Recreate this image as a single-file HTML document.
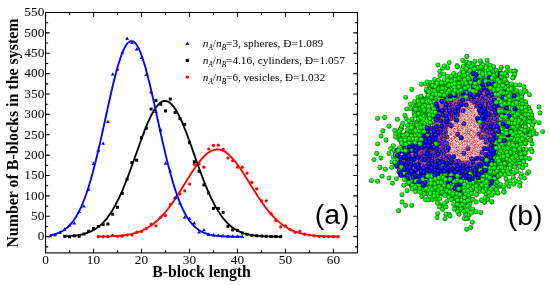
<!DOCTYPE html>
<html lang="en"><head><meta charset="utf-8"><title>Figure</title>
<style>html,body{margin:0;padding:0;background:#fff}svg{display:block}</style></head>
<body>
<svg width="550" height="285" viewBox="0 0 550 285">
<defs>
<radialGradient id="gg" cx="0.5" cy="0.5" r="0.5" fx="0.38" fy="0.34"><stop offset="0" stop-color="#5cff5c"/><stop offset="0.4" stop-color="#10f010"/><stop offset="0.75" stop-color="#00c000"/><stop offset="1" stop-color="#005000"/></radialGradient>
<radialGradient id="gd" cx="0.5" cy="0.5" r="0.5" fx="0.38" fy="0.34"><stop offset="0" stop-color="#30e030"/><stop offset="0.4" stop-color="#08c808"/><stop offset="0.75" stop-color="#00a800"/><stop offset="1" stop-color="#005000"/></radialGradient>
<radialGradient id="gb" cx="0.5" cy="0.5" r="0.5" fx="0.38" fy="0.34"><stop offset="0" stop-color="#4a4aff"/><stop offset="0.4" stop-color="#1010e4"/><stop offset="0.75" stop-color="#0000b8"/><stop offset="1" stop-color="#00004c"/></radialGradient>
<radialGradient id="bd" cx="0.5" cy="0.5" r="0.5" fx="0.38" fy="0.34"><stop offset="0" stop-color="#6048f0"/><stop offset="0.4" stop-color="#3018d0"/><stop offset="0.75" stop-color="#2008a8"/><stop offset="1" stop-color="#180050"/></radialGradient>
</defs>
<rect width="550" height="285" fill="#fff"/>
<filter id="fw" filterUnits="userSpaceOnUse" x="390" y="55" width="150" height="150" color-interpolation-filters="sRGB"><feTurbulence type="fractalNoise" baseFrequency="1.7" numOctaves="1" seed="3"/><feColorMatrix values="0 0 0 0 1  0 0 0 0 1  0 0 0 0 1  8 0 0 0 -4.2"/><feComposite operator="in" in2="SourceGraphic"/></filter>
<filter id="fr" filterUnits="userSpaceOnUse" x="390" y="55" width="150" height="150" color-interpolation-filters="sRGB"><feTurbulence type="fractalNoise" baseFrequency="1.7" numOctaves="1" seed="9"/><feColorMatrix values="0 0 0 0 0.75  0 0 0 0 0.25  0 0 0 0 0.25  8 0 0 0 -4.4"/><feComposite operator="in" in2="SourceGraphic"/></filter>
<filter id="fp" filterUnits="userSpaceOnUse" x="390" y="55" width="150" height="150" color-interpolation-filters="sRGB"><feTurbulence type="fractalNoise" baseFrequency="1.7" numOctaves="1" seed="14"/><feColorMatrix values="0 0 0 0 0.86  0 0 0 0 0.36  0 0 0 0 0.44  8 0 0 0 -3.65"/><feComposite operator="in" in2="SourceGraphic"/></filter>
<ellipse cx="518" cy="128" rx="8" ry="8" filter="url(#fp)" opacity="0.55"/>
<ellipse cx="514" cy="94" rx="6" ry="10" filter="url(#fp)" opacity="0.55"/>
<ellipse cx="437" cy="181" rx="6" ry="5" filter="url(#fp)" opacity="0.55"/>
<ellipse cx="519" cy="173" rx="4" ry="9" filter="url(#fp)" opacity="0.55"/>
<ellipse cx="506" cy="138" rx="5" ry="6" filter="url(#fp)" opacity="0.55"/>
<ellipse cx="430" cy="116" rx="6" ry="6" filter="url(#fp)" opacity="0.55"/>
<ellipse cx="524" cy="150" rx="4" ry="6" filter="url(#fp)" opacity="0.55"/>
<polygon points="472.5,85.2 480.5,84.3 487.6,81.6 493.8,81.6 497.4,86.0 498.3,93.2 500.9,99.4 503.6,106.5 505.4,114.5 505.4,123.4 503.6,133.2 499.2,143.0 492.9,150.1 488.5,158.1 484.0,166.2 477.8,172.4 468.9,175.1 463.6,175.9 457.3,180.4 451.1,174.2 442.2,170.2 431.5,172.4 425.3,181.3 417.3,175.1 405.7,170.6 402.1,159.9 403.0,148.3 411.1,144.8 414.6,143.9 424.4,135.9 431.5,126.1 436.0,117.2 438.6,103.8 447.5,99.4 460.0,93.2 466.2,90.5" fill="#9c5c98"/>
<polygon points="473.5,96.3 478.5,100.8 481.0,109.7 479.8,120.9 481.0,132.1 483.5,143.3 488.5,150.0 482.2,159.0 471.0,162.4 458.5,161.2 448.5,156.8 443.5,147.8 444.8,138.8 449.8,127.6 456.0,116.4 464.8,105.2" fill="#eaaca6" stroke="#eaaca6" stroke-width="3" stroke-linejoin="round"/>
<polygon points="473.5,96.3 478.5,100.8 481.0,109.7 479.8,120.9 481.0,132.1 483.5,143.3 488.5,150.0 482.2,159.0 471.0,162.4 458.5,161.2 448.5,156.8 443.5,147.8 444.8,138.8 449.8,127.6 456.0,116.4 464.8,105.2" filter="url(#fw)"/>
<polygon points="472.5,85.2 480.5,84.3 487.6,81.6 493.8,81.6 497.4,86.0 498.3,93.2 500.9,99.4 503.6,106.5 505.4,114.5 505.4,123.4 503.6,133.2 499.2,143.0 492.9,150.1 488.5,158.1 484.0,166.2 477.8,172.4 468.9,175.1 463.6,175.9 457.3,180.4 451.1,174.2 442.2,170.2 431.5,172.4 425.3,181.3 417.3,175.1 405.7,170.6 402.1,159.9 403.0,148.3 411.1,144.8 414.6,143.9 424.4,135.9 431.5,126.1 436.0,117.2 438.6,103.8 447.5,99.4 460.0,93.2 466.2,90.5" filter="url(#fr)"/>
<g><circle cx="440.3" cy="140.0" r="2.5" fill="url(#bd)"/><circle cx="445.1" cy="127.5" r="2.5" fill="url(#bd)"/><circle cx="440.0" cy="151.9" r="2.5" fill="url(#bd)"/><circle cx="488.8" cy="100.2" r="2.5" fill="url(#bd)"/><circle cx="470.7" cy="165.4" r="2.5" fill="url(#bd)"/><circle cx="468.7" cy="99.0" r="2.5" fill="url(#bd)"/><circle cx="451.2" cy="125.7" r="2.5" fill="url(#bd)"/><circle cx="487.7" cy="137.0" r="2.5" fill="url(#bd)"/><circle cx="437.2" cy="158.7" r="2.5" fill="url(#bd)"/><circle cx="494.7" cy="110.4" r="2.5" fill="url(#bd)"/><circle cx="414.3" cy="143.7" r="2.5" fill="url(#bd)"/><circle cx="433.2" cy="156.8" r="2.5" fill="url(#bd)"/><circle cx="423.2" cy="156.2" r="2.5" fill="url(#bd)"/><circle cx="493.6" cy="115.8" r="2.5" fill="url(#bd)"/><circle cx="467.4" cy="166.0" r="2.5" fill="url(#bd)"/><circle cx="496.5" cy="141.0" r="2.5" fill="url(#bd)"/><circle cx="471.9" cy="100.4" r="2.5" fill="url(#bd)"/><circle cx="449.7" cy="103.5" r="2.5" fill="url(#bd)"/><circle cx="494.6" cy="118.4" r="2.5" fill="url(#bd)"/><circle cx="459.8" cy="168.6" r="2.5" fill="url(#bd)"/><circle cx="491.9" cy="124.3" r="2.5" fill="url(#bd)"/><circle cx="482.5" cy="99.1" r="2.5" fill="url(#bd)"/><circle cx="488.3" cy="126.0" r="2.5" fill="url(#bd)"/><circle cx="483.4" cy="124.6" r="2.5" fill="url(#bd)"/><circle cx="434.9" cy="150.8" r="2.5" fill="url(#bd)"/><circle cx="490.0" cy="121.2" r="2.5" fill="url(#bd)"/><circle cx="430.2" cy="151.8" r="2.5" fill="url(#bd)"/><circle cx="481.4" cy="137.4" r="2.5" fill="url(#bd)"/><circle cx="445.3" cy="131.5" r="2.5" fill="url(#bd)"/><circle cx="439.8" cy="159.2" r="2.5" fill="url(#bd)"/><circle cx="428.2" cy="159.0" r="2.5" fill="url(#bd)"/><circle cx="486.9" cy="95.3" r="2.5" fill="url(#bd)"/><circle cx="446.5" cy="136.7" r="2.5" fill="url(#bd)"/><circle cx="444.8" cy="145.1" r="2.5" fill="url(#bd)"/><circle cx="479.3" cy="99.9" r="2.5" fill="url(#bd)"/><circle cx="449.3" cy="165.2" r="2.5" fill="url(#bd)"/><circle cx="420.1" cy="161.7" r="2.5" fill="url(#bd)"/><circle cx="455.0" cy="182.8" r="2.5" fill="url(#bd)"/><circle cx="443.9" cy="153.7" r="2.5" fill="url(#bd)"/><circle cx="494.4" cy="104.0" r="2.5" fill="url(#bd)"/><circle cx="460.2" cy="101.9" r="2.5" fill="url(#bd)"/><circle cx="477.1" cy="105.9" r="2.5" fill="url(#bd)"/><circle cx="492.4" cy="105.4" r="2.5" fill="url(#bd)"/><circle cx="446.6" cy="158.2" r="2.5" fill="url(#bd)"/><circle cx="455.6" cy="108.8" r="2.5" fill="url(#bd)"/><circle cx="426.0" cy="157.2" r="2.5" fill="url(#bd)"/><circle cx="498.3" cy="112.3" r="2.5" fill="url(#bd)"/><circle cx="443.0" cy="122.0" r="2.5" fill="url(#bd)"/><circle cx="486.1" cy="97.8" r="2.5" fill="url(#bd)"/><circle cx="446.9" cy="110.2" r="2.5" fill="url(#bd)"/><circle cx="490.5" cy="118.1" r="2.5" fill="url(#bd)"/><circle cx="491.6" cy="130.4" r="2.5" fill="url(#bd)"/><circle cx="478.4" cy="103.7" r="2.5" fill="url(#bd)"/><circle cx="456.7" cy="164.3" r="2.5" fill="url(#bd)"/><circle cx="488.5" cy="90.3" r="2.5" fill="url(#bd)"/><circle cx="463.9" cy="123.7" r="2.5" fill="url(#bd)"/><circle cx="491.2" cy="108.5" r="2.5" fill="url(#bd)"/><circle cx="452.2" cy="118.2" r="2.5" fill="url(#bd)"/><circle cx="484.4" cy="137.2" r="2.5" fill="url(#bd)"/><circle cx="473.7" cy="168.2" r="2.5" fill="url(#bd)"/><circle cx="453.8" cy="166.3" r="2.5" fill="url(#bd)"/><circle cx="481.7" cy="126.4" r="2.5" fill="url(#bd)"/><circle cx="450.7" cy="107.8" r="2.5" fill="url(#bd)"/><circle cx="439.7" cy="166.5" r="2.5" fill="url(#bd)"/><circle cx="413.3" cy="163.6" r="2.5" fill="url(#bd)"/><circle cx="441.1" cy="135.4" r="2.5" fill="url(#bd)"/><circle cx="478.8" cy="133.9" r="2.5" fill="url(#bd)"/><circle cx="463.1" cy="110.6" r="2.5" fill="url(#bd)"/><circle cx="485.2" cy="128.1" r="2.5" fill="url(#bd)"/><circle cx="458.8" cy="161.6" r="2.5" fill="url(#bd)"/><circle cx="456.3" cy="104.8" r="2.5" fill="url(#bd)"/><circle cx="427.4" cy="151.3" r="2.5" fill="url(#bd)"/><circle cx="421.8" cy="154.1" r="2.5" fill="url(#bd)"/><circle cx="428.1" cy="136.7" r="2.5" fill="url(#bd)"/><circle cx="433.2" cy="145.1" r="2.5" fill="url(#bd)"/><circle cx="462.6" cy="163.3" r="2.5" fill="url(#bd)"/><circle cx="482.0" cy="152.4" r="2.5" fill="url(#bd)"/><circle cx="458.0" cy="111.0" r="2.5" fill="url(#bd)"/><circle cx="457.5" cy="115.0" r="2.5" fill="url(#bd)"/><circle cx="492.2" cy="132.9" r="2.5" fill="url(#bd)"/><circle cx="498.6" cy="121.2" r="2.5" fill="url(#bd)"/><circle cx="426.3" cy="148.9" r="2.5" fill="url(#bd)"/><circle cx="454.4" cy="116.1" r="2.5" fill="url(#bd)"/><circle cx="491.6" cy="98.9" r="2.5" fill="url(#bd)"/><circle cx="481.9" cy="104.0" r="2.5" fill="url(#bd)"/><circle cx="492.6" cy="143.3" r="2.5" fill="url(#bd)"/><circle cx="422.0" cy="166.3" r="2.5" fill="url(#bd)"/><circle cx="435.5" cy="155.4" r="2.5" fill="url(#bd)"/><circle cx="488.0" cy="102.7" r="2.5" fill="url(#bd)"/><circle cx="491.3" cy="101.3" r="2.5" fill="url(#bd)"/><circle cx="435.3" cy="172.9" r="2.5" fill="url(#bd)"/><circle cx="450.4" cy="113.6" r="2.5" fill="url(#bd)"/><circle cx="421.8" cy="159.0" r="2.5" fill="url(#bd)"/><circle cx="482.9" cy="130.8" r="2.5" fill="url(#bd)"/><circle cx="485.6" cy="90.6" r="2.5" fill="url(#bd)"/><circle cx="467.5" cy="163.0" r="2.5" fill="url(#bd)"/><circle cx="444.0" cy="140.3" r="2.5" fill="url(#bd)"/><circle cx="453.3" cy="106.2" r="2.5" fill="url(#bd)"/><circle cx="497.9" cy="116.7" r="2.5" fill="url(#bd)"/><circle cx="489.1" cy="123.5" r="2.5" fill="url(#bd)"/><circle cx="443.0" cy="148.1" r="2.5" fill="url(#bd)"/><circle cx="431.2" cy="158.5" r="2.5" fill="url(#bd)"/><circle cx="485.6" cy="102.0" r="2.5" fill="url(#bd)"/><circle cx="459.7" cy="165.1" r="2.5" fill="url(#bd)"/><circle cx="489.7" cy="132.7" r="2.5" fill="url(#bd)"/><circle cx="443.2" cy="142.8" r="2.5" fill="url(#bd)"/><circle cx="420.8" cy="186.7" r="2.5" fill="url(#bd)"/><circle cx="457.5" cy="134.3" r="2.5" fill="url(#bd)"/><circle cx="479.5" cy="157.9" r="2.5" fill="url(#bd)"/><circle cx="480.6" cy="90.4" r="2.5" fill="url(#bd)"/><circle cx="444.9" cy="101.6" r="2.5" fill="url(#bd)"/><circle cx="485.5" cy="104.6" r="2.5" fill="url(#bd)"/><circle cx="443.4" cy="133.1" r="2.5" fill="url(#bd)"/><circle cx="424.2" cy="151.8" r="2.5" fill="url(#bd)"/><circle cx="433.2" cy="152.7" r="2.5" fill="url(#bd)"/><circle cx="401.2" cy="151.3" r="2.5" fill="url(#bd)"/><circle cx="448.3" cy="124.6" r="2.5" fill="url(#bd)"/><circle cx="450.7" cy="100.8" r="2.5" fill="url(#bd)"/><circle cx="471.3" cy="84.6" r="2.5" fill="url(#bd)"/><circle cx="443.5" cy="135.6" r="2.5" fill="url(#bd)"/><circle cx="438.7" cy="149.5" r="2.5" fill="url(#bd)"/><circle cx="440.2" cy="132.2" r="2.5" fill="url(#bd)"/><circle cx="486.6" cy="120.2" r="2.5" fill="url(#bd)"/><circle cx="439.2" cy="143.7" r="2.5" fill="url(#bd)"/><circle cx="487.1" cy="131.2" r="2.5" fill="url(#bd)"/><circle cx="486.5" cy="107.1" r="2.5" fill="url(#bd)"/><circle cx="445.3" cy="107.5" r="2.5" fill="url(#bd)"/><circle cx="448.7" cy="155.9" r="2.5" fill="url(#bd)"/><circle cx="463.9" cy="153.2" r="2.5" fill="url(#bd)"/><circle cx="474.1" cy="102.0" r="2.5" fill="url(#bd)"/><circle cx="440.9" cy="129.4" r="2.5" fill="url(#bd)"/><circle cx="446.7" cy="143.5" r="2.5" fill="url(#bd)"/><circle cx="480.9" cy="96.1" r="2.5" fill="url(#bd)"/><circle cx="444.1" cy="150.6" r="2.5" fill="url(#bd)"/><circle cx="495.5" cy="124.0" r="2.5" fill="url(#bd)"/><circle cx="443.6" cy="156.7" r="2.5" fill="url(#bd)"/><circle cx="449.4" cy="119.1" r="2.5" fill="url(#bd)"/><circle cx="486.8" cy="117.0" r="2.5" fill="url(#bd)"/><circle cx="471.5" cy="158.8" r="2.5" fill="url(#bd)"/><circle cx="467.9" cy="148.4" r="2.5" fill="url(#bd)"/><circle cx="496.3" cy="137.2" r="2.5" fill="url(#bd)"/><circle cx="452.5" cy="110.7" r="2.5" fill="url(#bd)"/><circle cx="488.7" cy="105.7" r="2.5" fill="url(#bd)"/><circle cx="447.3" cy="150.4" r="2.5" fill="url(#bd)"/><circle cx="486.0" cy="142.1" r="2.5" fill="url(#bd)"/><circle cx="428.1" cy="125.5" r="2.5" fill="url(#bd)"/><circle cx="493.5" cy="127.4" r="2.5" fill="url(#bd)"/><circle cx="489.3" cy="111.7" r="2.5" fill="url(#bd)"/><circle cx="456.3" cy="161.5" r="2.5" fill="url(#bd)"/><circle cx="436.3" cy="148.3" r="2.5" fill="url(#bd)"/><circle cx="476.4" cy="100.5" r="2.5" fill="url(#bd)"/></g>
<polygon points="472.5,85.2 480.5,84.3 487.6,81.6 493.8,81.6 497.4,86.0 498.3,93.2 500.9,99.4 503.6,106.5 505.4,114.5 505.4,123.4 503.6,133.2 499.2,143.0 492.9,150.1 488.5,158.1 484.0,166.2 477.8,172.4 468.9,175.1 463.6,175.9 457.3,180.4 451.1,174.2 442.2,170.2 431.5,172.4 425.3,181.3 417.3,175.1 405.7,170.6 402.1,159.9 403.0,148.3 411.1,144.8 414.6,143.9 424.4,135.9 431.5,126.1 436.0,117.2 438.6,103.8 447.5,99.4 460.0,93.2 466.2,90.5" filter="url(#fp)" opacity="0.5"/>
<g><circle cx="455.6" cy="207.7" r="2.45" fill="url(#gd)"/><circle cx="528.4" cy="111.8" r="2.45" fill="url(#gd)"/><circle cx="461.7" cy="182.9" r="2.45" fill="url(#gd)"/><circle cx="462.8" cy="209.7" r="2.45" fill="url(#gd)"/><circle cx="478.3" cy="80.7" r="2.45" fill="url(#gd)"/><circle cx="499.4" cy="145.1" r="2.45" fill="url(#gd)"/><circle cx="496.9" cy="75.0" r="2.45" fill="url(#gd)"/><circle cx="453.1" cy="180.9" r="2.45" fill="url(#gd)"/><circle cx="471.6" cy="183.1" r="2.45" fill="url(#gd)"/><circle cx="490.7" cy="170.5" r="2.45" fill="url(#gd)"/><circle cx="423.3" cy="184.7" r="2.45" fill="url(#gd)"/><circle cx="447.8" cy="181.5" r="2.45" fill="url(#gd)"/><circle cx="454.6" cy="90.0" r="2.45" fill="url(#gd)"/><circle cx="424.1" cy="193.3" r="2.45" fill="url(#gd)"/><circle cx="411.0" cy="185.4" r="2.45" fill="url(#gd)"/><circle cx="409.2" cy="138.7" r="2.45" fill="url(#gd)"/><circle cx="429.2" cy="86.8" r="2.45" fill="url(#gd)"/><circle cx="517.6" cy="153.8" r="2.45" fill="url(#gd)"/><circle cx="447.7" cy="194.1" r="2.45" fill="url(#gd)"/><circle cx="511.6" cy="121.9" r="2.45" fill="url(#gd)"/><circle cx="512.6" cy="96.6" r="2.45" fill="url(#gd)"/><circle cx="423.5" cy="130.3" r="2.45" fill="url(#gd)"/><circle cx="414.5" cy="185.4" r="2.45" fill="url(#gd)"/><circle cx="497.9" cy="72.3" r="2.45" fill="url(#gd)"/><circle cx="438.1" cy="84.3" r="2.45" fill="url(#gd)"/><circle cx="466.6" cy="182.1" r="2.45" fill="url(#gd)"/><circle cx="406.0" cy="142.0" r="2.45" fill="url(#gd)"/><circle cx="507.4" cy="153.7" r="2.45" fill="url(#gd)"/><circle cx="416.0" cy="138.1" r="2.45" fill="url(#gd)"/><circle cx="493.9" cy="184.3" r="2.45" fill="url(#gd)"/><circle cx="515.7" cy="118.7" r="2.45" fill="url(#gd)"/><circle cx="430.2" cy="122.5" r="2.45" fill="url(#gd)"/><circle cx="481.3" cy="189.4" r="2.45" fill="url(#gd)"/><circle cx="467.5" cy="66.0" r="2.45" fill="url(#gd)"/><circle cx="482.9" cy="82.1" r="2.45" fill="url(#gd)"/><circle cx="412.4" cy="183.2" r="2.45" fill="url(#gd)"/><circle cx="449.4" cy="99.3" r="2.45" fill="url(#gd)"/><circle cx="415.4" cy="106.0" r="2.45" fill="url(#gd)"/><circle cx="424.6" cy="128.7" r="2.45" fill="url(#gd)"/><circle cx="504.1" cy="76.4" r="2.45" fill="url(#gd)"/><circle cx="444.1" cy="86.8" r="2.45" fill="url(#gd)"/><circle cx="521.0" cy="133.4" r="2.45" fill="url(#gd)"/><circle cx="464.3" cy="86.3" r="2.45" fill="url(#gd)"/><circle cx="508.7" cy="138.8" r="2.45" fill="url(#gd)"/><circle cx="437.2" cy="97.0" r="2.45" fill="url(#gd)"/><circle cx="494.5" cy="171.1" r="2.45" fill="url(#gd)"/><circle cx="504.7" cy="87.6" r="2.45" fill="url(#gd)"/><circle cx="427.9" cy="187.0" r="2.45" fill="url(#gd)"/><circle cx="436.9" cy="178.9" r="2.45" fill="url(#gd)"/><circle cx="452.0" cy="90.3" r="2.45" fill="url(#gd)"/><circle cx="522.3" cy="158.0" r="2.45" fill="url(#gd)"/><circle cx="497.3" cy="174.4" r="2.45" fill="url(#gd)"/><circle cx="506.4" cy="97.4" r="2.45" fill="url(#gd)"/><circle cx="506.3" cy="112.1" r="2.45" fill="url(#gd)"/><circle cx="421.8" cy="183.2" r="2.45" fill="url(#gd)"/><circle cx="470.5" cy="200.9" r="2.45" fill="url(#gd)"/><circle cx="419.2" cy="135.1" r="2.45" fill="url(#gd)"/><circle cx="476.5" cy="78.5" r="2.45" fill="url(#gd)"/><circle cx="441.8" cy="177.1" r="2.45" fill="url(#gd)"/><circle cx="458.6" cy="79.1" r="2.45" fill="url(#gd)"/><circle cx="428.0" cy="96.0" r="2.45" fill="url(#gd)"/><circle cx="483.6" cy="172.5" r="2.45" fill="url(#gd)"/><circle cx="468.0" cy="68.2" r="2.45" fill="url(#gd)"/><circle cx="422.4" cy="124.8" r="2.45" fill="url(#gd)"/><circle cx="435.6" cy="177.1" r="2.45" fill="url(#gd)"/><circle cx="517.1" cy="145.4" r="2.45" fill="url(#gd)"/><circle cx="514.8" cy="157.1" r="2.45" fill="url(#gd)"/><circle cx="492.0" cy="177.9" r="2.45" fill="url(#gd)"/><circle cx="528.7" cy="107.4" r="2.45" fill="url(#gd)"/><circle cx="491.2" cy="75.4" r="2.45" fill="url(#gd)"/><circle cx="511.6" cy="101.1" r="2.45" fill="url(#gd)"/><circle cx="435.5" cy="83.5" r="2.45" fill="url(#gd)"/><circle cx="490.3" cy="164.6" r="2.45" fill="url(#gd)"/><circle cx="444.2" cy="174.7" r="2.45" fill="url(#gd)"/><circle cx="501.4" cy="148.1" r="2.45" fill="url(#gd)"/><circle cx="488.9" cy="189.0" r="2.45" fill="url(#gd)"/><circle cx="510.7" cy="172.3" r="2.45" fill="url(#gd)"/><circle cx="485.3" cy="176.2" r="2.45" fill="url(#gd)"/><circle cx="442.7" cy="190.5" r="2.45" fill="url(#gd)"/><circle cx="450.4" cy="178.8" r="2.45" fill="url(#gd)"/><circle cx="499.9" cy="136.5" r="2.45" fill="url(#gd)"/><circle cx="454.7" cy="194.2" r="2.45" fill="url(#gd)"/><circle cx="506.8" cy="172.5" r="2.45" fill="url(#gd)"/><circle cx="467.8" cy="189.5" r="2.45" fill="url(#gd)"/><circle cx="497.3" cy="155.5" r="2.45" fill="url(#gd)"/><circle cx="474.9" cy="68.9" r="2.45" fill="url(#gd)"/><circle cx="464.4" cy="181.9" r="2.45" fill="url(#gd)"/><circle cx="409.8" cy="143.7" r="2.45" fill="url(#gd)"/><circle cx="441.0" cy="188.5" r="2.45" fill="url(#gd)"/><circle cx="513.8" cy="99.5" r="2.45" fill="url(#gd)"/><circle cx="442.0" cy="184.8" r="2.45" fill="url(#gd)"/><circle cx="460.4" cy="88.1" r="2.45" fill="url(#gd)"/><circle cx="434.1" cy="183.1" r="2.45" fill="url(#gd)"/><circle cx="451.4" cy="95.2" r="2.45" fill="url(#gd)"/><circle cx="463.9" cy="198.5" r="2.45" fill="url(#gd)"/><circle cx="438.6" cy="177.5" r="2.45" fill="url(#gd)"/><circle cx="460.5" cy="184.3" r="2.45" fill="url(#gd)"/><circle cx="473.7" cy="72.0" r="2.45" fill="url(#gd)"/><circle cx="496.7" cy="177.9" r="2.45" fill="url(#gd)"/><circle cx="459.4" cy="82.4" r="2.45" fill="url(#gd)"/><circle cx="431.6" cy="177.7" r="2.45" fill="url(#gd)"/><circle cx="491.1" cy="180.9" r="2.45" fill="url(#gd)"/><circle cx="418.5" cy="119.6" r="2.45" fill="url(#gd)"/><circle cx="412.5" cy="130.6" r="2.45" fill="url(#gd)"/><circle cx="447.0" cy="82.1" r="2.45" fill="url(#gd)"/><circle cx="489.4" cy="80.2" r="2.45" fill="url(#gd)"/><circle cx="479.5" cy="179.0" r="2.45" fill="url(#gd)"/><circle cx="443.8" cy="182.3" r="2.45" fill="url(#gd)"/><circle cx="501.2" cy="81.3" r="2.45" fill="url(#gd)"/><circle cx="499.7" cy="170.3" r="2.45" fill="url(#gd)"/><circle cx="409.6" cy="181.2" r="2.45" fill="url(#gd)"/><circle cx="466.6" cy="89.6" r="2.45" fill="url(#gd)"/><circle cx="497.1" cy="152.7" r="2.45" fill="url(#gd)"/><circle cx="407.7" cy="131.1" r="2.45" fill="url(#gd)"/><circle cx="487.8" cy="185.8" r="2.45" fill="url(#gd)"/><circle cx="507.7" cy="144.3" r="2.45" fill="url(#gd)"/><circle cx="492.0" cy="190.7" r="2.45" fill="url(#gd)"/><circle cx="428.3" cy="89.7" r="2.45" fill="url(#gd)"/><circle cx="462.7" cy="70.0" r="2.45" fill="url(#gd)"/><circle cx="430.3" cy="183.6" r="2.45" fill="url(#gd)"/><circle cx="466.5" cy="196.5" r="2.45" fill="url(#gd)"/><circle cx="429.7" cy="93.2" r="2.45" fill="url(#gd)"/><circle cx="414.1" cy="136.8" r="2.45" fill="url(#gd)"/><circle cx="473.6" cy="182.5" r="2.45" fill="url(#gd)"/><circle cx="420.9" cy="186.9" r="2.45" fill="url(#gd)"/><circle cx="447.5" cy="99.6" r="2.45" fill="url(#gd)"/><circle cx="447.7" cy="95.8" r="2.45" fill="url(#gd)"/><circle cx="399.7" cy="140.2" r="2.45" fill="url(#gd)"/><circle cx="452.4" cy="187.2" r="2.45" fill="url(#gd)"/><circle cx="449.0" cy="91.1" r="2.45" fill="url(#gd)"/><circle cx="428.5" cy="117.0" r="2.45" fill="url(#gd)"/><circle cx="525.8" cy="105.2" r="2.45" fill="url(#gd)"/><circle cx="454.5" cy="186.5" r="2.45" fill="url(#gd)"/><circle cx="423.0" cy="188.5" r="2.45" fill="url(#gd)"/><circle cx="499.2" cy="78.3" r="2.45" fill="url(#gd)"/><circle cx="441.1" cy="97.4" r="2.45" fill="url(#gd)"/><circle cx="424.8" cy="117.4" r="2.45" fill="url(#gd)"/><circle cx="510.0" cy="118.3" r="2.45" fill="url(#gd)"/><circle cx="420.3" cy="122.0" r="2.45" fill="url(#gd)"/><circle cx="508.1" cy="110.8" r="2.45" fill="url(#gd)"/><circle cx="437.7" cy="184.6" r="2.45" fill="url(#gd)"/><circle cx="463.8" cy="201.8" r="2.45" fill="url(#gd)"/><circle cx="468.2" cy="82.3" r="2.45" fill="url(#gd)"/><circle cx="485.4" cy="76.4" r="2.45" fill="url(#gd)"/><circle cx="428.0" cy="107.0" r="2.45" fill="url(#gd)"/><circle cx="457.0" cy="192.9" r="2.45" fill="url(#gd)"/><circle cx="475.1" cy="185.7" r="2.45" fill="url(#gd)"/><circle cx="507.2" cy="137.5" r="2.45" fill="url(#gd)"/><circle cx="445.9" cy="93.6" r="2.45" fill="url(#gd)"/><circle cx="516.3" cy="143.2" r="2.45" fill="url(#gd)"/><circle cx="454.6" cy="182.6" r="2.45" fill="url(#gd)"/><circle cx="414.0" cy="141.8" r="2.45" fill="url(#gd)"/><circle cx="523.1" cy="122.3" r="2.45" fill="url(#gd)"/><circle cx="488.6" cy="172.7" r="2.45" fill="url(#gd)"/><circle cx="449.7" cy="80.4" r="2.45" fill="url(#gd)"/><circle cx="493.4" cy="192.9" r="2.45" fill="url(#gd)"/><circle cx="428.4" cy="178.4" r="2.45" fill="url(#gd)"/><circle cx="516.7" cy="134.4" r="2.45" fill="url(#gd)"/><circle cx="506.8" cy="129.6" r="2.45" fill="url(#gd)"/><circle cx="416.7" cy="140.1" r="2.45" fill="url(#gd)"/><circle cx="529.5" cy="109.7" r="2.45" fill="url(#gd)"/><circle cx="507.3" cy="100.3" r="2.45" fill="url(#gd)"/><circle cx="472.5" cy="76.7" r="2.45" fill="url(#gd)"/><circle cx="479.5" cy="186.3" r="2.45" fill="url(#gd)"/><circle cx="493.0" cy="161.9" r="2.45" fill="url(#gd)"/><circle cx="434.3" cy="88.2" r="2.45" fill="url(#gd)"/><circle cx="468.3" cy="192.1" r="2.45" fill="url(#gd)"/><circle cx="514.5" cy="116.3" r="2.45" fill="url(#gd)"/><circle cx="441.3" cy="83.3" r="2.45" fill="url(#gd)"/><circle cx="508.2" cy="133.4" r="2.45" fill="url(#gd)"/><circle cx="433.4" cy="110.3" r="2.45" fill="url(#gd)"/><circle cx="471.3" cy="81.9" r="2.45" fill="url(#gd)"/><circle cx="503.1" cy="135.3" r="2.45" fill="url(#gd)"/><circle cx="516.5" cy="136.3" r="2.45" fill="url(#gd)"/><circle cx="467.3" cy="78.3" r="2.45" fill="url(#gd)"/><circle cx="515.5" cy="121.4" r="2.45" fill="url(#gd)"/><circle cx="439.0" cy="97.4" r="2.45" fill="url(#gd)"/><circle cx="427.3" cy="122.1" r="2.45" fill="url(#gd)"/><circle cx="433.4" cy="107.4" r="2.45" fill="url(#gd)"/><circle cx="512.5" cy="158.4" r="2.45" fill="url(#gd)"/><circle cx="454.3" cy="190.8" r="2.45" fill="url(#gd)"/><circle cx="485.6" cy="173.4" r="2.45" fill="url(#gd)"/><circle cx="467.0" cy="184.8" r="2.45" fill="url(#gd)"/><circle cx="526.8" cy="119.5" r="2.45" fill="url(#gd)"/><circle cx="513.7" cy="114.2" r="2.45" fill="url(#gd)"/><circle cx="511.8" cy="166.6" r="2.45" fill="url(#gd)"/><circle cx="521.5" cy="112.9" r="2.45" fill="url(#gd)"/><circle cx="525.6" cy="126.0" r="2.45" fill="url(#gd)"/><circle cx="426.3" cy="191.9" r="2.45" fill="url(#gd)"/><circle cx="513.8" cy="144.6" r="2.45" fill="url(#gd)"/><circle cx="469.5" cy="194.2" r="2.45" fill="url(#gd)"/><circle cx="465.7" cy="180.1" r="2.45" fill="url(#gd)"/><circle cx="524.6" cy="134.8" r="2.45" fill="url(#gd)"/><circle cx="451.7" cy="184.2" r="2.45" fill="url(#gd)"/><circle cx="468.2" cy="70.6" r="2.45" fill="url(#gd)"/><circle cx="459.5" cy="200.2" r="2.45" fill="url(#gd)"/><circle cx="517.2" cy="92.3" r="2.45" fill="url(#gd)"/><circle cx="493.6" cy="173.1" r="2.45" fill="url(#gd)"/><circle cx="498.3" cy="160.6" r="2.45" fill="url(#gd)"/><circle cx="423.8" cy="108.7" r="2.45" fill="url(#gd)"/><circle cx="427.9" cy="184.7" r="2.45" fill="url(#gd)"/><circle cx="509.5" cy="165.1" r="2.45" fill="url(#gd)"/><circle cx="472.7" cy="66.9" r="2.45" fill="url(#gd)"/><circle cx="514.7" cy="112.3" r="2.45" fill="url(#gd)"/><circle cx="502.2" cy="84.2" r="2.45" fill="url(#gd)"/><circle cx="503.6" cy="109.4" r="2.45" fill="url(#gd)"/><circle cx="497.4" cy="83.5" r="2.45" fill="url(#gd)"/><circle cx="433.2" cy="96.6" r="2.45" fill="url(#gd)"/><circle cx="525.2" cy="122.1" r="2.45" fill="url(#gd)"/><circle cx="467.1" cy="198.6" r="2.45" fill="url(#gd)"/><circle cx="514.6" cy="161.1" r="2.45" fill="url(#gd)"/><circle cx="513.5" cy="108.2" r="2.45" fill="url(#gd)"/><circle cx="480.5" cy="182.8" r="2.45" fill="url(#gd)"/><circle cx="502.3" cy="150.8" r="2.45" fill="url(#gd)"/><circle cx="435.2" cy="102.3" r="2.45" fill="url(#gd)"/><circle cx="431.5" cy="109.6" r="2.45" fill="url(#gd)"/><circle cx="417.2" cy="105.9" r="2.45" fill="url(#gd)"/><circle cx="438.9" cy="86.7" r="2.45" fill="url(#gd)"/><circle cx="429.7" cy="120.7" r="2.45" fill="url(#gd)"/><circle cx="522.8" cy="139.6" r="2.45" fill="url(#gd)"/><circle cx="459.3" cy="192.7" r="2.45" fill="url(#gd)"/><circle cx="411.0" cy="134.8" r="2.45" fill="url(#gd)"/><circle cx="491.9" cy="79.7" r="2.45" fill="url(#gd)"/><circle cx="452.9" cy="81.6" r="2.45" fill="url(#gd)"/><circle cx="429.5" cy="190.4" r="2.45" fill="url(#gd)"/><circle cx="436.1" cy="109.6" r="2.45" fill="url(#gd)"/><circle cx="485.4" cy="84.5" r="2.45" fill="url(#gd)"/><circle cx="490.8" cy="73.0" r="2.45" fill="url(#gd)"/><circle cx="522.4" cy="154.2" r="2.45" fill="url(#gd)"/><circle cx="501.9" cy="90.8" r="2.45" fill="url(#gd)"/><circle cx="407.4" cy="135.6" r="2.45" fill="url(#gd)"/><circle cx="425.3" cy="110.6" r="2.45" fill="url(#gd)"/><circle cx="522.0" cy="100.9" r="2.45" fill="url(#gd)"/><circle cx="398.9" cy="172.0" r="2.45" fill="url(#gd)"/><circle cx="417.9" cy="111.1" r="2.45" fill="url(#gd)"/><circle cx="495.9" cy="149.2" r="2.45" fill="url(#gd)"/><circle cx="460.5" cy="194.4" r="2.45" fill="url(#gd)"/><circle cx="494.0" cy="177.6" r="2.45" fill="url(#gd)"/><circle cx="504.1" cy="106.4" r="2.45" fill="url(#gd)"/><circle cx="502.6" cy="166.1" r="2.45" fill="url(#gd)"/><circle cx="451.7" cy="198.0" r="2.45" fill="url(#gd)"/><circle cx="421.5" cy="107.3" r="2.45" fill="url(#gd)"/><circle cx="489.9" cy="162.0" r="2.45" fill="url(#gd)"/><circle cx="414.6" cy="134.1" r="2.45" fill="url(#gd)"/><circle cx="524.8" cy="129.3" r="2.45" fill="url(#gd)"/><circle cx="399.4" cy="136.5" r="2.45" fill="url(#gd)"/><circle cx="467.7" cy="80.3" r="2.45" fill="url(#gd)"/><circle cx="470.6" cy="76.9" r="2.45" fill="url(#gd)"/><circle cx="463.7" cy="81.1" r="2.45" fill="url(#gd)"/><circle cx="487.7" cy="169.0" r="2.45" fill="url(#gd)"/><circle cx="447.2" cy="192.1" r="2.45" fill="url(#gd)"/><circle cx="431.6" cy="113.9" r="2.45" fill="url(#gd)"/><circle cx="439.4" cy="175.0" r="2.45" fill="url(#gd)"/><circle cx="527.8" cy="132.3" r="2.45" fill="url(#gd)"/><circle cx="451.4" cy="92.3" r="2.45" fill="url(#gd)"/><circle cx="424.3" cy="186.8" r="2.45" fill="url(#gd)"/><circle cx="428.5" cy="125.7" r="2.45" fill="url(#gd)"/><circle cx="498.7" cy="176.4" r="2.45" fill="url(#gd)"/><circle cx="470.4" cy="85.6" r="2.45" fill="url(#gd)"/><circle cx="485.7" cy="73.3" r="2.45" fill="url(#gd)"/><circle cx="444.3" cy="94.6" r="2.45" fill="url(#gd)"/><circle cx="499.1" cy="165.5" r="2.45" fill="url(#gd)"/><circle cx="443.9" cy="81.4" r="2.45" fill="url(#gd)"/><circle cx="419.7" cy="104.4" r="2.45" fill="url(#gd)"/><circle cx="477.7" cy="83.7" r="2.45" fill="url(#gd)"/><circle cx="479.7" cy="77.6" r="2.45" fill="url(#gd)"/><circle cx="463.3" cy="78.0" r="2.45" fill="url(#gd)"/><circle cx="455.7" cy="84.0" r="2.45" fill="url(#gd)"/><circle cx="505.0" cy="99.4" r="2.45" fill="url(#gd)"/><circle cx="499.9" cy="141.2" r="2.45" fill="url(#gd)"/><circle cx="457.7" cy="83.1" r="2.45" fill="url(#gd)"/><circle cx="477.6" cy="181.0" r="2.45" fill="url(#gd)"/><circle cx="430.6" cy="174.6" r="2.45" fill="url(#gd)"/><circle cx="435.9" cy="188.2" r="2.45" fill="url(#gd)"/><circle cx="417.0" cy="122.3" r="2.45" fill="url(#gd)"/><circle cx="450.7" cy="188.0" r="2.45" fill="url(#gd)"/><circle cx="520.2" cy="159.8" r="2.45" fill="url(#gd)"/><circle cx="488.3" cy="69.6" r="2.45" fill="url(#gd)"/><circle cx="430.7" cy="116.3" r="2.45" fill="url(#gd)"/><circle cx="523.2" cy="116.4" r="2.45" fill="url(#gd)"/><circle cx="410.2" cy="183.4" r="2.45" fill="url(#gd)"/><circle cx="470.2" cy="90.6" r="2.45" fill="url(#gd)"/><circle cx="459.0" cy="84.8" r="2.45" fill="url(#gd)"/><circle cx="461.1" cy="91.3" r="2.45" fill="url(#gd)"/><circle cx="519.3" cy="132.9" r="2.45" fill="url(#gd)"/><circle cx="421.2" cy="96.8" r="2.45" fill="url(#gd)"/><circle cx="468.2" cy="73.0" r="2.45" fill="url(#gd)"/><circle cx="414.1" cy="123.0" r="2.45" fill="url(#gd)"/><circle cx="497.7" cy="184.4" r="2.45" fill="url(#gd)"/><circle cx="511.6" cy="105.9" r="2.45" fill="url(#gd)"/><circle cx="432.7" cy="90.6" r="2.45" fill="url(#gd)"/><circle cx="523.3" cy="149.3" r="2.45" fill="url(#gd)"/><circle cx="482.0" cy="83.7" r="2.45" fill="url(#gd)"/><circle cx="488.7" cy="176.4" r="2.45" fill="url(#gd)"/><circle cx="516.8" cy="130.4" r="2.45" fill="url(#gd)"/><circle cx="502.8" cy="144.7" r="2.45" fill="url(#gd)"/><circle cx="505.5" cy="83.3" r="2.45" fill="url(#gd)"/><circle cx="504.9" cy="141.8" r="2.45" fill="url(#gd)"/><circle cx="523.3" cy="136.6" r="2.45" fill="url(#gd)"/><circle cx="427.1" cy="119.3" r="2.45" fill="url(#gd)"/><circle cx="436.1" cy="174.3" r="2.45" fill="url(#gd)"/><circle cx="440.1" cy="172.7" r="2.45" fill="url(#gd)"/><circle cx="515.2" cy="148.0" r="2.45" fill="url(#gd)"/><circle cx="518.2" cy="141.4" r="2.45" fill="url(#gd)"/><circle cx="496.5" cy="142.4" r="2.45" fill="url(#gd)"/><circle cx="520.0" cy="140.5" r="2.45" fill="url(#gd)"/><circle cx="528.3" cy="129.2" r="2.45" fill="url(#gd)"/><circle cx="406.5" cy="146.9" r="2.45" fill="url(#gd)"/><circle cx="419.2" cy="100.1" r="2.45" fill="url(#gd)"/><circle cx="519.9" cy="118.1" r="2.45" fill="url(#gd)"/><circle cx="482.4" cy="175.8" r="2.45" fill="url(#gd)"/><circle cx="511.4" cy="114.8" r="2.45" fill="url(#gd)"/><circle cx="510.6" cy="87.7" r="2.45" fill="url(#gd)"/><circle cx="457.3" cy="93.8" r="2.45" fill="url(#gd)"/><circle cx="494.4" cy="191.3" r="2.45" fill="url(#gd)"/><circle cx="481.5" cy="69.1" r="2.45" fill="url(#gd)"/><circle cx="413.4" cy="187.7" r="2.45" fill="url(#gd)"/><circle cx="456.7" cy="87.2" r="2.45" fill="url(#gd)"/><circle cx="465.2" cy="78.0" r="2.45" fill="url(#gd)"/><circle cx="481.5" cy="79.8" r="2.45" fill="url(#gd)"/><circle cx="420.3" cy="114.3" r="2.45" fill="url(#gd)"/><circle cx="450.4" cy="88.1" r="2.45" fill="url(#gd)"/><circle cx="501.4" cy="155.5" r="2.45" fill="url(#gd)"/><circle cx="425.1" cy="183.7" r="2.45" fill="url(#gd)"/><circle cx="442.8" cy="98.4" r="2.45" fill="url(#gd)"/><circle cx="456.8" cy="185.3" r="2.45" fill="url(#gd)"/><circle cx="451.0" cy="193.1" r="2.45" fill="url(#gd)"/><circle cx="427.9" cy="102.3" r="2.45" fill="url(#gd)"/><circle cx="502.6" cy="101.6" r="2.45" fill="url(#gd)"/><circle cx="505.1" cy="161.1" r="2.45" fill="url(#gd)"/><circle cx="513.3" cy="88.3" r="2.45" fill="url(#gd)"/><circle cx="516.8" cy="95.1" r="2.45" fill="url(#gd)"/><circle cx="457.6" cy="187.6" r="2.45" fill="url(#gd)"/><circle cx="447.2" cy="176.5" r="2.45" fill="url(#gd)"/><circle cx="473.2" cy="187.7" r="2.45" fill="url(#gd)"/><circle cx="438.4" cy="181.5" r="2.45" fill="url(#gd)"/><circle cx="501.3" cy="162.7" r="2.45" fill="url(#gd)"/><circle cx="492.1" cy="160.3" r="2.45" fill="url(#gd)"/><circle cx="446.1" cy="85.1" r="2.45" fill="url(#gd)"/><circle cx="422.2" cy="127.0" r="2.45" fill="url(#gd)"/><circle cx="434.0" cy="191.0" r="2.45" fill="url(#gd)"/><circle cx="423.0" cy="98.9" r="2.45" fill="url(#gd)"/><circle cx="514.8" cy="131.8" r="2.45" fill="url(#gd)"/><circle cx="485.3" cy="185.9" r="2.45" fill="url(#gd)"/><circle cx="510.5" cy="132.3" r="2.45" fill="url(#gd)"/><circle cx="479.0" cy="183.9" r="2.45" fill="url(#gd)"/><circle cx="421.3" cy="129.8" r="2.45" fill="url(#gd)"/><circle cx="411.0" cy="140.1" r="2.45" fill="url(#gd)"/><circle cx="429.6" cy="192.8" r="2.45" fill="url(#gd)"/><circle cx="470.0" cy="189.9" r="2.45" fill="url(#gd)"/><circle cx="472.6" cy="84.7" r="2.45" fill="url(#gd)"/><circle cx="481.9" cy="177.8" r="2.45" fill="url(#gd)"/><circle cx="510.6" cy="99.1" r="2.45" fill="url(#gd)"/><circle cx="417.4" cy="134.2" r="2.45" fill="url(#gd)"/><circle cx="414.7" cy="110.4" r="2.45" fill="url(#gd)"/><circle cx="507.6" cy="91.1" r="2.45" fill="url(#gd)"/><circle cx="483.7" cy="70.9" r="2.45" fill="url(#gd)"/><circle cx="403.7" cy="143.5" r="2.45" fill="url(#gd)"/><circle cx="411.1" cy="125.6" r="2.45" fill="url(#gd)"/><circle cx="426.5" cy="125.3" r="2.45" fill="url(#gd)"/><circle cx="439.0" cy="89.3" r="2.45" fill="url(#gd)"/><circle cx="530.8" cy="135.2" r="2.45" fill="url(#gd)"/><circle cx="463.9" cy="196.6" r="2.45" fill="url(#gd)"/><circle cx="402.1" cy="149.2" r="2.45" fill="url(#gd)"/><circle cx="521.2" cy="142.4" r="2.45" fill="url(#gd)"/><circle cx="407.3" cy="178.7" r="2.45" fill="url(#gd)"/><circle cx="471.6" cy="180.2" r="2.45" fill="url(#gd)"/><circle cx="466.4" cy="193.2" r="2.45" fill="url(#gd)"/><circle cx="424.4" cy="114.2" r="2.45" fill="url(#gd)"/><circle cx="526.4" cy="114.0" r="2.45" fill="url(#gd)"/><circle cx="408.7" cy="133.4" r="2.45" fill="url(#gd)"/><circle cx="418.6" cy="185.7" r="2.45" fill="url(#gd)"/><circle cx="509.2" cy="121.8" r="2.45" fill="url(#gd)"/><circle cx="498.2" cy="80.2" r="2.45" fill="url(#gd)"/><circle cx="414.3" cy="125.4" r="2.45" fill="url(#gd)"/><circle cx="495.1" cy="165.4" r="2.45" fill="url(#gd)"/><circle cx="508.8" cy="84.3" r="2.45" fill="url(#gd)"/><circle cx="460.0" cy="93.3" r="2.45" fill="url(#gd)"/><circle cx="531.2" cy="116.0" r="2.45" fill="url(#gd)"/><circle cx="489.9" cy="78.1" r="2.45" fill="url(#gd)"/><circle cx="465.8" cy="83.8" r="2.45" fill="url(#gd)"/><circle cx="426.8" cy="114.2" r="2.45" fill="url(#gd)"/><circle cx="464.5" cy="88.6" r="2.45" fill="url(#gd)"/><circle cx="493.2" cy="164.8" r="2.45" fill="url(#gd)"/><circle cx="469.5" cy="75.3" r="2.45" fill="url(#gd)"/><circle cx="431.0" cy="118.6" r="2.45" fill="url(#gd)"/><circle cx="429.0" cy="103.8" r="2.45" fill="url(#gd)"/><circle cx="445.3" cy="188.0" r="2.45" fill="url(#gd)"/><circle cx="526.5" cy="135.3" r="2.45" fill="url(#gd)"/><circle cx="454.6" cy="198.5" r="2.45" fill="url(#gd)"/><circle cx="461.6" cy="72.4" r="2.45" fill="url(#gd)"/><circle cx="407.8" cy="183.4" r="2.45" fill="url(#gd)"/><circle cx="433.8" cy="116.8" r="2.45" fill="url(#gd)"/><circle cx="419.0" cy="183.0" r="2.45" fill="url(#gd)"/><circle cx="486.6" cy="80.2" r="2.45" fill="url(#gd)"/><circle cx="396.5" cy="151.4" r="2.45" fill="url(#gd)"/><circle cx="399.1" cy="148.7" r="2.45" fill="url(#gd)"/><circle cx="447.3" cy="188.8" r="2.45" fill="url(#gd)"/><circle cx="423.3" cy="119.9" r="2.45" fill="url(#gd)"/><circle cx="525.2" cy="143.8" r="2.45" fill="url(#gd)"/><circle cx="519.8" cy="154.6" r="2.45" fill="url(#gd)"/><circle cx="500.2" cy="159.6" r="2.45" fill="url(#gd)"/><circle cx="432.8" cy="187.3" r="2.45" fill="url(#gd)"/><circle cx="507.7" cy="86.8" r="2.45" fill="url(#gd)"/><circle cx="468.5" cy="86.8" r="2.45" fill="url(#gd)"/><circle cx="501.5" cy="142.3" r="2.45" fill="url(#gd)"/><circle cx="491.7" cy="184.6" r="2.45" fill="url(#gd)"/><circle cx="498.1" cy="151.1" r="2.45" fill="url(#gd)"/><circle cx="410.6" cy="131.3" r="2.45" fill="url(#gd)"/><circle cx="507.0" cy="140.6" r="2.45" fill="url(#gd)"/><circle cx="429.7" cy="100.2" r="2.45" fill="url(#gd)"/><circle cx="420.8" cy="120.2" r="2.45" fill="url(#gd)"/><circle cx="500.4" cy="174.6" r="2.45" fill="url(#gd)"/><circle cx="528.1" cy="121.1" r="2.45" fill="url(#gd)"/><circle cx="501.6" cy="94.7" r="2.45" fill="url(#gd)"/><circle cx="477.9" cy="76.6" r="2.45" fill="url(#gd)"/><circle cx="495.1" cy="75.7" r="2.45" fill="url(#gd)"/><circle cx="505.5" cy="118.4" r="2.45" fill="url(#gd)"/><circle cx="477.9" cy="74.3" r="2.45" fill="url(#gd)"/><circle cx="463.5" cy="205.5" r="2.45" fill="url(#gd)"/><circle cx="496.5" cy="87.8" r="2.45" fill="url(#gd)"/><circle cx="439.9" cy="90.9" r="2.45" fill="url(#gd)"/><circle cx="476.9" cy="179.3" r="2.45" fill="url(#gd)"/><circle cx="525.4" cy="111.7" r="2.45" fill="url(#gd)"/><circle cx="426.8" cy="91.8" r="2.45" fill="url(#gd)"/><circle cx="444.0" cy="92.6" r="2.45" fill="url(#gd)"/><circle cx="510.6" cy="128.8" r="2.45" fill="url(#gd)"/><circle cx="428.7" cy="109.5" r="2.45" fill="url(#gd)"/><circle cx="508.7" cy="128.3" r="2.45" fill="url(#gd)"/><circle cx="417.3" cy="136.0" r="2.45" fill="url(#gd)"/><circle cx="474.0" cy="80.6" r="2.45" fill="url(#gd)"/><circle cx="473.9" cy="78.1" r="2.45" fill="url(#gd)"/><circle cx="430.1" cy="186.6" r="2.45" fill="url(#gd)"/><circle cx="432.3" cy="120.8" r="2.45" fill="url(#gd)"/><circle cx="486.0" cy="181.6" r="2.45" fill="url(#gd)"/><circle cx="466.2" cy="72.8" r="2.45" fill="url(#gd)"/><circle cx="502.2" cy="173.2" r="2.45" fill="url(#gd)"/><circle cx="484.8" cy="178.0" r="2.45" fill="url(#gd)"/><circle cx="518.4" cy="123.5" r="2.45" fill="url(#gd)"/><circle cx="479.9" cy="81.7" r="2.45" fill="url(#gd)"/><circle cx="497.5" cy="171.9" r="2.45" fill="url(#gd)"/><circle cx="437.1" cy="90.0" r="2.45" fill="url(#gd)"/><circle cx="513.5" cy="129.9" r="2.45" fill="url(#gd)"/><circle cx="488.0" cy="183.0" r="2.45" fill="url(#gd)"/><circle cx="523.4" cy="131.5" r="2.45" fill="url(#gd)"/><circle cx="413.6" cy="108.7" r="2.45" fill="url(#gd)"/><circle cx="423.3" cy="111.0" r="2.45" fill="url(#gd)"/><circle cx="505.7" cy="165.5" r="2.45" fill="url(#gd)"/><circle cx="511.9" cy="155.3" r="2.45" fill="url(#gd)"/><circle cx="505.3" cy="122.4" r="2.45" fill="url(#gd)"/><circle cx="413.6" cy="132.1" r="2.45" fill="url(#gd)"/><circle cx="486.0" cy="70.9" r="2.45" fill="url(#gd)"/><circle cx="463.7" cy="189.3" r="2.45" fill="url(#gd)"/><circle cx="443.1" cy="96.2" r="2.45" fill="url(#gd)"/><circle cx="525.4" cy="108.7" r="2.45" fill="url(#gd)"/><circle cx="516.3" cy="109.1" r="2.45" fill="url(#gd)"/><circle cx="507.2" cy="93.8" r="2.45" fill="url(#gd)"/><circle cx="427.6" cy="176.6" r="2.45" fill="url(#gd)"/><circle cx="464.9" cy="68.1" r="2.45" fill="url(#gd)"/><circle cx="514.0" cy="139.7" r="2.45" fill="url(#gd)"/><circle cx="448.5" cy="97.5" r="2.45" fill="url(#gd)"/><circle cx="433.8" cy="180.8" r="2.45" fill="url(#gd)"/><circle cx="496.5" cy="160.2" r="2.45" fill="url(#gd)"/><circle cx="487.3" cy="178.5" r="2.45" fill="url(#gd)"/><circle cx="446.8" cy="185.3" r="2.45" fill="url(#gd)"/><circle cx="437.9" cy="80.9" r="2.45" fill="url(#gd)"/><circle cx="438.8" cy="191.1" r="2.45" fill="url(#gd)"/><circle cx="509.6" cy="125.9" r="2.45" fill="url(#gd)"/><circle cx="460.9" cy="80.6" r="2.45" fill="url(#gd)"/><circle cx="501.1" cy="99.2" r="2.45" fill="url(#gd)"/><circle cx="525.4" cy="116.4" r="2.45" fill="url(#gd)"/><circle cx="510.0" cy="90.7" r="2.45" fill="url(#gd)"/><circle cx="451.4" cy="84.6" r="2.45" fill="url(#gd)"/><circle cx="519.8" cy="96.8" r="2.45" fill="url(#gd)"/><circle cx="532.4" cy="130.7" r="2.45" fill="url(#gd)"/><circle cx="462.4" cy="186.6" r="2.45" fill="url(#gd)"/><circle cx="415.0" cy="129.8" r="2.45" fill="url(#gd)"/><circle cx="525.9" cy="131.9" r="2.45" fill="url(#gd)"/><circle cx="420.4" cy="109.0" r="2.45" fill="url(#gd)"/><circle cx="498.3" cy="88.4" r="2.45" fill="url(#gd)"/><circle cx="470.1" cy="71.9" r="2.45" fill="url(#gd)"/><circle cx="458.2" cy="90.3" r="2.45" fill="url(#gd)"/><circle cx="517.3" cy="100.7" r="2.45" fill="url(#gd)"/><circle cx="498.7" cy="91.1" r="2.45" fill="url(#gd)"/><circle cx="495.5" cy="192.9" r="2.45" fill="url(#gd)"/><circle cx="503.8" cy="163.9" r="2.45" fill="url(#gd)"/><circle cx="514.4" cy="136.5" r="2.45" fill="url(#gd)"/><circle cx="481.1" cy="75.1" r="2.45" fill="url(#gd)"/><circle cx="403.9" cy="176.1" r="2.45" fill="url(#gd)"/><circle cx="473.4" cy="185.1" r="2.45" fill="url(#gd)"/><circle cx="460.9" cy="85.7" r="2.45" fill="url(#gd)"/><circle cx="507.7" cy="151.6" r="2.45" fill="url(#gd)"/><circle cx="501.5" cy="88.0" r="2.45" fill="url(#gd)"/><circle cx="505.1" cy="92.4" r="2.45" fill="url(#gd)"/><circle cx="504.6" cy="130.0" r="2.45" fill="url(#gd)"/><circle cx="509.3" cy="156.0" r="2.45" fill="url(#gd)"/><circle cx="496.3" cy="170.0" r="2.45" fill="url(#gd)"/><circle cx="444.7" cy="185.0" r="2.45" fill="url(#gd)"/><circle cx="493.4" cy="175.3" r="2.45" fill="url(#gd)"/><circle cx="463.5" cy="90.7" r="2.45" fill="url(#gd)"/><circle cx="420.8" cy="101.6" r="2.45" fill="url(#gd)"/><circle cx="460.0" cy="209.0" r="2.45" fill="url(#gd)"/><circle cx="432.7" cy="93.9" r="2.45" fill="url(#gd)"/><circle cx="425.5" cy="105.0" r="2.45" fill="url(#gd)"/><circle cx="482.4" cy="182.3" r="2.45" fill="url(#gd)"/><circle cx="504.0" cy="95.4" r="2.45" fill="url(#gd)"/><circle cx="523.8" cy="141.2" r="2.45" fill="url(#gd)"/><circle cx="470.1" cy="63.3" r="2.45" fill="url(#gd)"/><circle cx="529.3" cy="113.6" r="2.45" fill="url(#gd)"/><circle cx="430.0" cy="110.9" r="2.45" fill="url(#gd)"/><circle cx="425.8" cy="99.3" r="2.45" fill="url(#gd)"/><circle cx="406.3" cy="139.6" r="2.45" fill="url(#gd)"/><circle cx="498.5" cy="158.6" r="2.45" fill="url(#gd)"/><circle cx="495.0" cy="159.0" r="2.45" fill="url(#gd)"/><circle cx="400.1" cy="129.7" r="2.45" fill="url(#gd)"/><circle cx="466.5" cy="201.4" r="2.45" fill="url(#gd)"/><circle cx="503.3" cy="168.5" r="2.45" fill="url(#gd)"/><circle cx="520.2" cy="105.3" r="2.45" fill="url(#gd)"/><circle cx="520.3" cy="128.3" r="2.45" fill="url(#gd)"/><circle cx="436.6" cy="95.0" r="2.45" fill="url(#gd)"/><circle cx="474.8" cy="180.5" r="2.45" fill="url(#gd)"/><circle cx="412.3" cy="143.6" r="2.45" fill="url(#gd)"/><circle cx="425.2" cy="179.9" r="2.45" fill="url(#gd)"/><circle cx="503.1" cy="158.9" r="2.45" fill="url(#gd)"/><circle cx="514.4" cy="92.7" r="2.45" fill="url(#gd)"/><circle cx="431.3" cy="91.9" r="2.45" fill="url(#gd)"/><circle cx="464.1" cy="73.6" r="2.45" fill="url(#gd)"/><circle cx="521.5" cy="136.8" r="2.45" fill="url(#gd)"/><circle cx="517.1" cy="117.3" r="2.45" fill="url(#gd)"/><circle cx="438.9" cy="179.7" r="2.45" fill="url(#gd)"/><circle cx="495.9" cy="184.9" r="2.45" fill="url(#gd)"/><circle cx="479.8" cy="70.3" r="2.45" fill="url(#gd)"/><circle cx="459.7" cy="189.2" r="2.45" fill="url(#gd)"/><circle cx="458.8" cy="75.3" r="2.45" fill="url(#gd)"/><circle cx="402.5" cy="137.9" r="2.45" fill="url(#gd)"/><circle cx="503.1" cy="80.1" r="2.45" fill="url(#gd)"/><circle cx="511.0" cy="113.0" r="2.45" fill="url(#gd)"/><circle cx="461.9" cy="203.1" r="2.45" fill="url(#gd)"/><circle cx="427.4" cy="98.0" r="2.45" fill="url(#gd)"/><circle cx="470.2" cy="88.7" r="2.45" fill="url(#gd)"/><circle cx="501.0" cy="77.1" r="2.45" fill="url(#gd)"/><circle cx="495.5" cy="77.5" r="2.45" fill="url(#gd)"/><circle cx="499.7" cy="186.4" r="2.45" fill="url(#gd)"/><circle cx="438.3" cy="188.4" r="2.45" fill="url(#gd)"/><circle cx="441.9" cy="194.0" r="2.45" fill="url(#gd)"/><circle cx="520.2" cy="152.8" r="2.45" fill="url(#gd)"/><circle cx="513.3" cy="120.3" r="2.45" fill="url(#gd)"/><circle cx="473.5" cy="86.9" r="2.45" fill="url(#gd)"/><circle cx="523.7" cy="104.6" r="2.45" fill="url(#gd)"/><circle cx="530.1" cy="122.0" r="2.45" fill="url(#gd)"/><circle cx="470.2" cy="188.0" r="2.45" fill="url(#gd)"/><circle cx="469.2" cy="198.5" r="2.45" fill="url(#gd)"/><circle cx="505.0" cy="103.3" r="2.45" fill="url(#gd)"/><circle cx="457.4" cy="190.5" r="2.45" fill="url(#gd)"/><circle cx="482.3" cy="72.8" r="2.45" fill="url(#gd)"/><circle cx="477.5" cy="185.1" r="2.45" fill="url(#gd)"/><circle cx="469.1" cy="180.3" r="2.45" fill="url(#gd)"/><circle cx="483.5" cy="79.3" r="2.45" fill="url(#gd)"/><circle cx="431.5" cy="95.8" r="2.45" fill="url(#gd)"/><circle cx="456.7" cy="209.2" r="2.45" fill="url(#gd)"/><circle cx="455.4" cy="77.5" r="2.45" fill="url(#gd)"/><circle cx="415.6" cy="182.3" r="2.45" fill="url(#gd)"/><circle cx="430.3" cy="89.2" r="2.45" fill="url(#gd)"/><circle cx="427.6" cy="194.3" r="2.45" fill="url(#gd)"/><circle cx="506.7" cy="132.3" r="2.45" fill="url(#gd)"/><circle cx="401.6" cy="128.3" r="2.45" fill="url(#gd)"/><circle cx="399.0" cy="131.9" r="2.45" fill="url(#gd)"/><circle cx="509.2" cy="142.9" r="2.45" fill="url(#gd)"/><circle cx="514.8" cy="104.6" r="2.45" fill="url(#gd)"/><circle cx="491.6" cy="166.0" r="2.45" fill="url(#gd)"/><circle cx="445.3" cy="179.2" r="2.45" fill="url(#gd)"/><circle cx="480.5" cy="176.7" r="2.45" fill="url(#gd)"/><circle cx="464.8" cy="185.3" r="2.45" fill="url(#gd)"/><circle cx="505.4" cy="156.6" r="2.45" fill="url(#gd)"/><circle cx="495.8" cy="188.7" r="2.45" fill="url(#gd)"/><circle cx="444.6" cy="190.4" r="2.45" fill="url(#gd)"/><circle cx="409.1" cy="135.1" r="2.45" fill="url(#gd)"/><circle cx="520.6" cy="151.0" r="2.45" fill="url(#gd)"/><circle cx="517.3" cy="163.6" r="2.45" fill="url(#gd)"/><circle cx="502.7" cy="86.1" r="2.45" fill="url(#gd)"/><circle cx="455.6" cy="188.1" r="2.45" fill="url(#gd)"/><circle cx="505.1" cy="128.2" r="2.45" fill="url(#gd)"/><circle cx="520.9" cy="156.7" r="2.45" fill="url(#gd)"/><circle cx="506.3" cy="162.7" r="2.45" fill="url(#gd)"/><circle cx="532.1" cy="133.9" r="2.45" fill="url(#gd)"/><circle cx="405.0" cy="137.1" r="2.45" fill="url(#gd)"/><circle cx="447.5" cy="86.7" r="2.45" fill="url(#gd)"/><circle cx="436.0" cy="99.3" r="2.45" fill="url(#gd)"/><circle cx="514.8" cy="133.8" r="2.45" fill="url(#gd)"/><circle cx="511.7" cy="134.8" r="2.45" fill="url(#gd)"/><circle cx="465.2" cy="65.7" r="2.45" fill="url(#gd)"/><circle cx="524.0" cy="114.3" r="2.45" fill="url(#gd)"/><circle cx="526.3" cy="141.0" r="2.45" fill="url(#gd)"/><circle cx="468.1" cy="91.2" r="2.45" fill="url(#gd)"/><circle cx="424.6" cy="126.2" r="2.45" fill="url(#gd)"/><circle cx="450.7" cy="181.7" r="2.45" fill="url(#gd)"/><circle cx="420.7" cy="98.7" r="2.45" fill="url(#gd)"/><circle cx="521.4" cy="95.9" r="2.45" fill="url(#gd)"/><circle cx="414.2" cy="113.0" r="2.45" fill="url(#gd)"/><circle cx="461.0" cy="197.6" r="2.45" fill="url(#gd)"/><circle cx="436.8" cy="104.1" r="2.45" fill="url(#gd)"/><circle cx="503.7" cy="147.2" r="2.45" fill="url(#gd)"/><circle cx="505.4" cy="109.5" r="2.45" fill="url(#gd)"/><circle cx="429.5" cy="176.0" r="2.45" fill="url(#gd)"/><circle cx="449.7" cy="183.3" r="2.45" fill="url(#gd)"/><circle cx="444.9" cy="83.3" r="2.45" fill="url(#gd)"/><circle cx="429.1" cy="182.1" r="2.45" fill="url(#gd)"/><circle cx="452.6" cy="189.2" r="2.45" fill="url(#gd)"/><circle cx="402.6" cy="134.9" r="2.45" fill="url(#gd)"/><circle cx="441.9" cy="179.8" r="2.45" fill="url(#gd)"/><circle cx="471.9" cy="190.3" r="2.45" fill="url(#gd)"/><circle cx="505.4" cy="150.5" r="2.45" fill="url(#gd)"/><circle cx="448.0" cy="179.2" r="2.45" fill="url(#gd)"/><circle cx="421.3" cy="134.0" r="2.45" fill="url(#gd)"/><circle cx="511.0" cy="149.0" r="2.45" fill="url(#gd)"/><circle cx="431.7" cy="103.2" r="2.45" fill="url(#gd)"/><circle cx="490.0" cy="71.0" r="2.45" fill="url(#gd)"/><circle cx="444.3" cy="192.9" r="2.45" fill="url(#gd)"/><circle cx="510.4" cy="159.3" r="2.45" fill="url(#gd)"/><circle cx="504.4" cy="133.6" r="2.45" fill="url(#gd)"/><circle cx="406.8" cy="133.6" r="2.45" fill="url(#gd)"/><circle cx="418.2" cy="115.1" r="2.45" fill="url(#gd)"/><circle cx="457.8" cy="202.4" r="2.45" fill="url(#gd)"/><circle cx="511.3" cy="110.9" r="2.45" fill="url(#gd)"/><circle cx="409.7" cy="146.5" r="2.45" fill="url(#gd)"/><circle cx="440.4" cy="94.0" r="2.45" fill="url(#gd)"/><circle cx="441.1" cy="182.0" r="2.45" fill="url(#gd)"/><circle cx="495.3" cy="144.7" r="2.45" fill="url(#gd)"/><circle cx="495.8" cy="79.8" r="2.45" fill="url(#gd)"/><circle cx="531.0" cy="132.3" r="2.45" fill="url(#gd)"/><circle cx="509.0" cy="131.1" r="2.45" fill="url(#gd)"/><circle cx="504.9" cy="124.5" r="2.45" fill="url(#gd)"/><circle cx="495.3" cy="157.2" r="2.45" fill="url(#gd)"/><circle cx="504.8" cy="154.3" r="2.45" fill="url(#gd)"/><circle cx="475.1" cy="75.9" r="2.45" fill="url(#gd)"/><circle cx="413.9" cy="138.7" r="2.45" fill="url(#gd)"/><circle cx="458.1" cy="197.6" r="2.45" fill="url(#gd)"/><circle cx="505.3" cy="136.5" r="2.45" fill="url(#gd)"/><circle cx="516.1" cy="151.3" r="2.45" fill="url(#gd)"/><circle cx="520.3" cy="124.0" r="2.45" fill="url(#gd)"/><circle cx="430.3" cy="180.1" r="2.45" fill="url(#gd)"/><circle cx="492.0" cy="187.9" r="2.45" fill="url(#gd)"/><circle cx="438.1" cy="92.6" r="2.45" fill="url(#gd)"/><circle cx="445.7" cy="89.8" r="2.45" fill="url(#gd)"/><circle cx="434.2" cy="111.9" r="2.45" fill="url(#gd)"/><circle cx="515.4" cy="138.2" r="2.45" fill="url(#gd)"/><circle cx="512.0" cy="139.9" r="2.45" fill="url(#gd)"/><circle cx="500.4" cy="149.9" r="2.45" fill="url(#gd)"/><circle cx="416.4" cy="124.3" r="2.45" fill="url(#gd)"/><circle cx="483.4" cy="189.4" r="2.45" fill="url(#gd)"/><circle cx="424.1" cy="121.6" r="2.45" fill="url(#gd)"/><circle cx="530.6" cy="139.6" r="2.45" fill="url(#gd)"/><circle cx="508.0" cy="161.0" r="2.45" fill="url(#gd)"/><circle cx="464.6" cy="191.9" r="2.45" fill="url(#gd)"/><circle cx="479.4" cy="188.1" r="2.45" fill="url(#gd)"/><circle cx="435.6" cy="182.0" r="2.45" fill="url(#gd)"/><circle cx="440.4" cy="204.9" r="2.45" fill="url(#gd)"/><circle cx="508.5" cy="102.5" r="2.45" fill="url(#gd)"/><circle cx="490.5" cy="175.9" r="2.45" fill="url(#gd)"/><circle cx="516.7" cy="105.6" r="2.45" fill="url(#gd)"/><circle cx="434.7" cy="94.1" r="2.45" fill="url(#gd)"/><circle cx="492.5" cy="182.8" r="2.45" fill="url(#gd)"/><circle cx="506.6" cy="148.4" r="2.45" fill="url(#gd)"/><circle cx="416.7" cy="184.9" r="2.45" fill="url(#gd)"/><circle cx="432.0" cy="86.0" r="2.45" fill="url(#gd)"/><circle cx="460.3" cy="186.1" r="2.45" fill="url(#gd)"/><circle cx="504.1" cy="82.1" r="2.45" fill="url(#gd)"/><circle cx="498.8" cy="74.0" r="2.45" fill="url(#gd)"/><circle cx="511.4" cy="124.6" r="2.45" fill="url(#gd)"/><circle cx="423.1" cy="191.3" r="2.45" fill="url(#gd)"/><circle cx="516.6" cy="114.6" r="2.45" fill="url(#gd)"/><circle cx="515.5" cy="140.9" r="2.45" fill="url(#gd)"/><circle cx="514.1" cy="122.6" r="2.45" fill="url(#gd)"/><circle cx="462.7" cy="85.0" r="2.45" fill="url(#gd)"/><circle cx="427.5" cy="112.5" r="2.45" fill="url(#gd)"/><circle cx="513.0" cy="110.1" r="2.45" fill="url(#gd)"/><circle cx="519.6" cy="122.2" r="2.45" fill="url(#gd)"/><circle cx="453.0" cy="97.0" r="2.45" fill="url(#gd)"/><circle cx="497.3" cy="147.8" r="2.45" fill="url(#gd)"/><circle cx="494.6" cy="167.6" r="2.45" fill="url(#gd)"/><circle cx="512.1" cy="137.0" r="2.45" fill="url(#gd)"/><circle cx="445.2" cy="96.3" r="2.45" fill="url(#gd)"/><circle cx="452.2" cy="196.0" r="2.45" fill="url(#gd)"/><circle cx="494.0" cy="154.7" r="2.45" fill="url(#gd)"/><circle cx="489.3" cy="167.3" r="2.45" fill="url(#gd)"/><circle cx="415.3" cy="188.9" r="2.45" fill="url(#gd)"/><circle cx="431.8" cy="98.2" r="2.45" fill="url(#gd)"/><circle cx="491.3" cy="82.2" r="2.45" fill="url(#gd)"/><circle cx="477.3" cy="67.3" r="2.45" fill="url(#gd)"/><circle cx="500.3" cy="92.7" r="2.45" fill="url(#gd)"/><circle cx="472.0" cy="79.7" r="2.45" fill="url(#gd)"/><circle cx="492.8" cy="71.1" r="2.45" fill="url(#gd)"/><circle cx="485.7" cy="192.6" r="2.45" fill="url(#gd)"/><circle cx="475.4" cy="187.6" r="2.45" fill="url(#gd)"/><circle cx="436.8" cy="86.2" r="2.45" fill="url(#gd)"/><circle cx="403.1" cy="145.2" r="2.45" fill="url(#gd)"/><circle cx="506.7" cy="134.7" r="2.45" fill="url(#gd)"/><circle cx="433.9" cy="175.5" r="2.45" fill="url(#gd)"/><circle cx="518.7" cy="161.1" r="2.45" fill="url(#gd)"/><circle cx="464.7" cy="203.7" r="2.45" fill="url(#gd)"/><circle cx="456.9" cy="200.1" r="2.45" fill="url(#gd)"/><circle cx="417.3" cy="102.6" r="2.45" fill="url(#gd)"/><circle cx="426.8" cy="109.1" r="2.45" fill="url(#gd)"/><circle cx="457.0" cy="96.8" r="2.45" fill="url(#gd)"/><circle cx="507.6" cy="105.3" r="2.45" fill="url(#gd)"/><circle cx="484.7" cy="80.8" r="2.45" fill="url(#gd)"/><circle cx="485.2" cy="189.7" r="2.45" fill="url(#gd)"/><circle cx="461.5" cy="208.0" r="2.45" fill="url(#gd)"/><circle cx="439.3" cy="183.7" r="2.45" fill="url(#gd)"/><circle cx="420.0" cy="132.1" r="2.45" fill="url(#gd)"/><circle cx="532.0" cy="118.4" r="2.45" fill="url(#gd)"/><circle cx="469.8" cy="78.9" r="2.45" fill="url(#gd)"/><circle cx="512.6" cy="117.9" r="2.45" fill="url(#gd)"/><circle cx="514.1" cy="150.8" r="2.45" fill="url(#gd)"/><circle cx="492.4" cy="77.4" r="2.45" fill="url(#gd)"/><circle cx="428.6" cy="114.8" r="2.45" fill="url(#gd)"/><circle cx="510.2" cy="93.7" r="2.45" fill="url(#gd)"/><circle cx="456.4" cy="182.6" r="2.45" fill="url(#gd)"/><circle cx="519.6" cy="109.5" r="2.45" fill="url(#gd)"/><circle cx="522.8" cy="111.6" r="2.45" fill="url(#gd)"/><circle cx="520.3" cy="99.5" r="2.45" fill="url(#gd)"/><circle cx="502.7" cy="97.3" r="2.45" fill="url(#gd)"/><circle cx="469.8" cy="67.9" r="2.45" fill="url(#gd)"/><circle cx="422.3" cy="103.7" r="2.45" fill="url(#gd)"/><circle cx="442.9" cy="206.1" r="2.45" fill="url(#gd)"/><circle cx="472.0" cy="88.1" r="2.45" fill="url(#gd)"/><circle cx="461.1" cy="192.1" r="2.45" fill="url(#gd)"/><circle cx="515.2" cy="102.0" r="2.45" fill="url(#gd)"/><circle cx="484.7" cy="170.2" r="2.45" fill="url(#gd)"/><circle cx="432.6" cy="194.1" r="2.45" fill="url(#gd)"/><circle cx="518.7" cy="111.1" r="2.45" fill="url(#gd)"/><circle cx="491.3" cy="173.6" r="2.45" fill="url(#gd)"/><circle cx="458.1" cy="77.2" r="2.45" fill="url(#gd)"/><circle cx="521.6" cy="130.6" r="2.45" fill="url(#gd)"/><circle cx="498.8" cy="148.9" r="2.45" fill="url(#gd)"/></g>
<g><circle cx="487.0" cy="158.5" r="2.5" fill="url(#gb)"/><circle cx="493.5" cy="89.9" r="2.45" fill="url(#gg)"/><circle cx="491.8" cy="151.4" r="2.45" fill="url(#gg)"/><circle cx="410.9" cy="161.6" r="2.5" fill="url(#gb)"/><circle cx="429.7" cy="142.5" r="2.5" fill="url(#gb)"/><circle cx="414.0" cy="159.3" r="2.5" fill="url(#gb)"/><circle cx="438.0" cy="65.0" r="2.45" fill="url(#gg)"/><circle cx="445.2" cy="88.9" r="2.45" fill="url(#gg)"/><circle cx="487.3" cy="63.2" r="2.45" fill="url(#gg)"/><circle cx="473.2" cy="64.7" r="2.45" fill="url(#gg)"/><circle cx="407.4" cy="167.0" r="2.5" fill="url(#gb)"/><circle cx="484.0" cy="182.7" r="2.45" fill="url(#gg)"/><circle cx="521.3" cy="154.3" r="2.45" fill="url(#gg)"/><circle cx="516.0" cy="136.4" r="2.45" fill="url(#gg)"/><circle cx="460.3" cy="206.0" r="2.45" fill="url(#gg)"/><circle cx="503.5" cy="115.4" r="2.5" fill="url(#gb)"/><circle cx="423.8" cy="116.6" r="2.45" fill="url(#gg)"/><circle cx="526.0" cy="91.2" r="2.45" fill="url(#gg)"/><circle cx="412.4" cy="148.1" r="2.5" fill="url(#gb)"/><circle cx="449.2" cy="214.3" r="2.45" fill="url(#gg)"/><circle cx="479.7" cy="180.5" r="2.45" fill="url(#gg)"/><circle cx="490.2" cy="171.8" r="2.45" fill="url(#gg)"/><circle cx="516.0" cy="108.9" r="2.45" fill="url(#gg)"/><circle cx="466.3" cy="178.1" r="2.45" fill="url(#gg)"/><circle cx="445.8" cy="182.5" r="2.45" fill="url(#gg)"/><circle cx="485.1" cy="161.4" r="2.5" fill="url(#gb)"/><circle cx="430.1" cy="166.1" r="2.5" fill="url(#gb)"/><circle cx="521.4" cy="157.8" r="2.45" fill="url(#gg)"/><circle cx="448.3" cy="148.0" r="2.5" fill="url(#gb)"/><circle cx="450.5" cy="99.3" r="2.45" fill="url(#gg)"/><circle cx="445.9" cy="207.0" r="2.45" fill="url(#gg)"/><circle cx="513.3" cy="177.2" r="2.45" fill="url(#gg)"/><circle cx="514.8" cy="98.1" r="2.45" fill="url(#gg)"/><circle cx="493.8" cy="67.8" r="2.45" fill="url(#gg)"/><circle cx="397.4" cy="119.2" r="2.45" fill="url(#gg)"/><circle cx="427.1" cy="102.3" r="2.45" fill="url(#gg)"/><circle cx="480.7" cy="86.7" r="2.45" fill="url(#gg)"/><circle cx="513.9" cy="139.6" r="2.45" fill="url(#gg)"/><circle cx="533.7" cy="131.1" r="2.45" fill="url(#gg)"/><circle cx="429.9" cy="155.7" r="2.5" fill="url(#gb)"/><circle cx="502.4" cy="153.2" r="2.45" fill="url(#gg)"/><circle cx="484.1" cy="119.1" r="2.5" fill="url(#gb)"/><circle cx="444.9" cy="98.0" r="2.45" fill="url(#gg)"/><circle cx="418.3" cy="167.9" r="2.5" fill="url(#gb)"/><circle cx="495.6" cy="160.3" r="2.45" fill="url(#gg)"/><circle cx="493.4" cy="176.0" r="2.45" fill="url(#gg)"/><circle cx="458.1" cy="91.8" r="2.45" fill="url(#gg)"/><circle cx="461.8" cy="200.4" r="2.45" fill="url(#gg)"/><circle cx="525.4" cy="114.6" r="2.45" fill="url(#gg)"/><circle cx="524.1" cy="118.9" r="2.45" fill="url(#gg)"/><circle cx="433.9" cy="147.6" r="2.5" fill="url(#gb)"/><circle cx="521.5" cy="174.4" r="2.45" fill="url(#gg)"/><circle cx="457.7" cy="166.7" r="2.5" fill="url(#gb)"/><circle cx="412.4" cy="184.9" r="2.45" fill="url(#gg)"/><circle cx="505.2" cy="150.2" r="2.45" fill="url(#gg)"/><circle cx="398.5" cy="166.0" r="2.45" fill="url(#gg)"/><circle cx="483.8" cy="88.0" r="2.5" fill="url(#gb)"/><circle cx="479.2" cy="170.5" r="2.5" fill="url(#gb)"/><circle cx="467.8" cy="169.8" r="2.5" fill="url(#gb)"/><circle cx="506.8" cy="92.6" r="2.45" fill="url(#gg)"/><circle cx="509.8" cy="107.9" r="2.45" fill="url(#gg)"/><circle cx="499.6" cy="153.7" r="2.45" fill="url(#gg)"/><circle cx="507.3" cy="158.9" r="2.45" fill="url(#gg)"/><circle cx="508.6" cy="135.8" r="2.45" fill="url(#gg)"/><circle cx="447.5" cy="76.4" r="2.45" fill="url(#gg)"/><circle cx="488.4" cy="196.8" r="2.45" fill="url(#gg)"/><circle cx="399.4" cy="169.4" r="2.5" fill="url(#gb)"/><circle cx="415.6" cy="135.4" r="2.45" fill="url(#gg)"/><circle cx="437.0" cy="106.8" r="2.5" fill="url(#gb)"/><circle cx="435.6" cy="116.3" r="2.45" fill="url(#gg)"/><circle cx="516.2" cy="156.2" r="2.45" fill="url(#gg)"/><circle cx="420.4" cy="124.4" r="2.45" fill="url(#gg)"/><circle cx="422.3" cy="147.3" r="2.5" fill="url(#gb)"/><circle cx="403.9" cy="185.2" r="2.45" fill="url(#gg)"/><circle cx="421.7" cy="182.9" r="2.5" fill="url(#gb)"/><circle cx="466.9" cy="88.6" r="2.5" fill="url(#gb)"/><circle cx="439.8" cy="96.5" r="2.5" fill="url(#gb)"/><circle cx="425.7" cy="138.9" r="2.5" fill="url(#gb)"/><circle cx="487.7" cy="199.7" r="2.45" fill="url(#gg)"/><circle cx="442.6" cy="209.6" r="2.45" fill="url(#gg)"/><circle cx="485.3" cy="84.2" r="2.45" fill="url(#gg)"/><circle cx="459.2" cy="184.5" r="2.45" fill="url(#gg)"/><circle cx="500.6" cy="157.4" r="2.45" fill="url(#gg)"/><circle cx="475.7" cy="75.3" r="2.45" fill="url(#gg)"/><circle cx="371.4" cy="180.7" r="2.45" fill="url(#gg)"/><circle cx="437.6" cy="89.0" r="2.45" fill="url(#gg)"/><circle cx="498.7" cy="104.4" r="2.45" fill="url(#gg)"/><circle cx="470.7" cy="83.0" r="2.45" fill="url(#gg)"/><circle cx="417.4" cy="133.1" r="2.45" fill="url(#gg)"/><circle cx="525.5" cy="127.1" r="2.45" fill="url(#gg)"/><circle cx="436.0" cy="117.3" r="2.5" fill="url(#gb)"/><circle cx="437.9" cy="182.4" r="2.45" fill="url(#gg)"/><circle cx="495.5" cy="151.6" r="2.45" fill="url(#gg)"/><circle cx="422.8" cy="135.6" r="2.45" fill="url(#gg)"/><circle cx="427.2" cy="174.1" r="2.5" fill="url(#gb)"/><circle cx="526.5" cy="149.7" r="2.45" fill="url(#gg)"/><circle cx="434.6" cy="173.4" r="2.45" fill="url(#gg)"/><circle cx="536.3" cy="133.9" r="2.45" fill="url(#gg)"/><circle cx="397.2" cy="166.6" r="2.45" fill="url(#gg)"/><circle cx="503.3" cy="156.6" r="2.45" fill="url(#gg)"/><circle cx="503.5" cy="187.1" r="2.45" fill="url(#gg)"/><circle cx="430.0" cy="82.5" r="2.45" fill="url(#gg)"/><circle cx="424.9" cy="159.8" r="2.5" fill="url(#gb)"/><circle cx="486.6" cy="186.3" r="2.45" fill="url(#gg)"/><circle cx="443.1" cy="115.1" r="2.5" fill="url(#gb)"/><circle cx="482.4" cy="167.1" r="2.5" fill="url(#gb)"/><circle cx="400.3" cy="162.0" r="2.5" fill="url(#gb)"/><circle cx="476.0" cy="75.0" r="2.5" fill="url(#gb)"/><circle cx="477.3" cy="176.2" r="2.45" fill="url(#gg)"/><circle cx="431.6" cy="91.0" r="2.45" fill="url(#gg)"/><circle cx="482.4" cy="158.9" r="2.5" fill="url(#gb)"/><circle cx="462.4" cy="69.3" r="2.45" fill="url(#gg)"/><circle cx="466.4" cy="93.2" r="2.45" fill="url(#gg)"/><circle cx="506.9" cy="152.5" r="2.45" fill="url(#gg)"/><circle cx="529.4" cy="158.8" r="2.45" fill="url(#gg)"/><circle cx="517.7" cy="139.3" r="2.45" fill="url(#gg)"/><circle cx="471.3" cy="66.9" r="2.45" fill="url(#gg)"/><circle cx="481.8" cy="185.1" r="2.45" fill="url(#gg)"/><circle cx="428.6" cy="163.9" r="2.5" fill="url(#gb)"/><circle cx="442.3" cy="173.8" r="2.5" fill="url(#gb)"/><circle cx="512.0" cy="96.0" r="2.45" fill="url(#gg)"/><circle cx="441.8" cy="92.1" r="2.45" fill="url(#gg)"/><circle cx="403.2" cy="167.2" r="2.5" fill="url(#gb)"/><circle cx="454.5" cy="178.8" r="2.5" fill="url(#gb)"/><circle cx="426.4" cy="179.1" r="2.5" fill="url(#gb)"/><circle cx="531.1" cy="149.2" r="2.45" fill="url(#gg)"/><circle cx="527.3" cy="173.4" r="2.45" fill="url(#gg)"/><circle cx="515.6" cy="120.8" r="2.45" fill="url(#gg)"/><circle cx="476.4" cy="158.5" r="2.5" fill="url(#gb)"/><circle cx="421.7" cy="174.0" r="2.5" fill="url(#gb)"/><circle cx="422.6" cy="101.1" r="2.45" fill="url(#gg)"/><circle cx="476.2" cy="179.4" r="2.45" fill="url(#gg)"/><circle cx="502.2" cy="138.4" r="2.5" fill="url(#gb)"/><circle cx="465.7" cy="194.2" r="2.45" fill="url(#gg)"/><circle cx="483.9" cy="164.7" r="2.5" fill="url(#gb)"/><circle cx="473.0" cy="162.1" r="2.5" fill="url(#gb)"/><circle cx="497.3" cy="182.2" r="2.45" fill="url(#gg)"/><circle cx="502.3" cy="142.7" r="2.5" fill="url(#gb)"/><circle cx="462.6" cy="181.4" r="2.5" fill="url(#gb)"/><circle cx="517.0" cy="145.8" r="2.45" fill="url(#gg)"/><circle cx="466.7" cy="96.0" r="2.5" fill="url(#gb)"/><circle cx="487.9" cy="167.1" r="2.5" fill="url(#gb)"/><circle cx="480.5" cy="106.3" r="2.5" fill="url(#gb)"/><circle cx="502.0" cy="111.1" r="2.45" fill="url(#gg)"/><circle cx="470.4" cy="184.2" r="2.45" fill="url(#gg)"/><circle cx="468.6" cy="215.2" r="2.45" fill="url(#gg)"/><circle cx="491.9" cy="94.8" r="2.5" fill="url(#gb)"/><circle cx="436.8" cy="97.2" r="2.45" fill="url(#gg)"/><circle cx="493.4" cy="183.8" r="2.45" fill="url(#gg)"/><circle cx="485.1" cy="114.3" r="2.5" fill="url(#gb)"/><circle cx="418.2" cy="157.2" r="2.5" fill="url(#gb)"/><circle cx="485.6" cy="170.2" r="2.45" fill="url(#gg)"/><circle cx="529.4" cy="94.7" r="2.45" fill="url(#gg)"/><circle cx="462.5" cy="82.3" r="2.45" fill="url(#gg)"/><circle cx="377.5" cy="181.2" r="2.45" fill="url(#gg)"/><circle cx="515.1" cy="105.8" r="2.45" fill="url(#gg)"/><circle cx="403.7" cy="175.1" r="2.5" fill="url(#gb)"/><circle cx="524.4" cy="178.1" r="2.45" fill="url(#gg)"/><circle cx="436.6" cy="126.5" r="2.45" fill="url(#gg)"/><circle cx="433.0" cy="170.5" r="2.5" fill="url(#gb)"/><circle cx="420.7" cy="144.1" r="2.5" fill="url(#gb)"/><circle cx="469.8" cy="208.4" r="2.45" fill="url(#gg)"/><circle cx="435.2" cy="139.2" r="2.5" fill="url(#gb)"/><circle cx="504.1" cy="90.7" r="2.5" fill="url(#gb)"/><circle cx="400.8" cy="129.6" r="2.45" fill="url(#gg)"/><circle cx="423.0" cy="136.8" r="2.5" fill="url(#gb)"/><circle cx="454.1" cy="98.0" r="2.45" fill="url(#gg)"/><circle cx="435.5" cy="170.2" r="2.5" fill="url(#gb)"/><circle cx="433.1" cy="94.6" r="2.45" fill="url(#gg)"/><circle cx="501.1" cy="97.2" r="2.45" fill="url(#gg)"/><circle cx="434.7" cy="91.0" r="2.45" fill="url(#gg)"/><circle cx="521.1" cy="122.8" r="2.45" fill="url(#gg)"/><circle cx="461.3" cy="104.6" r="2.5" fill="url(#gb)"/><circle cx="470.7" cy="227.5" r="2.45" fill="url(#gg)"/><circle cx="515.4" cy="71.0" r="2.45" fill="url(#gg)"/><circle cx="400.9" cy="139.9" r="2.45" fill="url(#gg)"/><circle cx="501.0" cy="89.1" r="2.45" fill="url(#gg)"/><circle cx="426.3" cy="133.3" r="2.5" fill="url(#gb)"/><circle cx="451.7" cy="81.3" r="2.45" fill="url(#gg)"/><circle cx="468.0" cy="218.6" r="2.45" fill="url(#gg)"/><circle cx="438.0" cy="193.5" r="2.45" fill="url(#gg)"/><circle cx="407.6" cy="175.0" r="2.5" fill="url(#gb)"/><circle cx="490.3" cy="65.4" r="2.45" fill="url(#gg)"/><circle cx="516.4" cy="181.5" r="2.45" fill="url(#gg)"/><circle cx="453.4" cy="191.0" r="2.45" fill="url(#gg)"/><circle cx="507.9" cy="112.4" r="2.45" fill="url(#gg)"/><circle cx="454.0" cy="184.4" r="2.45" fill="url(#gg)"/><circle cx="485.7" cy="73.1" r="2.45" fill="url(#gg)"/><circle cx="439.9" cy="71.4" r="2.45" fill="url(#gg)"/><circle cx="437.0" cy="166.7" r="2.5" fill="url(#gb)"/><circle cx="390.8" cy="148.8" r="2.45" fill="url(#gg)"/><circle cx="478.5" cy="120.8" r="2.5" fill="url(#gb)"/><circle cx="448.9" cy="172.2" r="2.45" fill="url(#gg)"/><circle cx="468.1" cy="74.2" r="2.45" fill="url(#gg)"/><circle cx="457.5" cy="170.0" r="2.5" fill="url(#gb)"/><circle cx="394.0" cy="150.5" r="2.45" fill="url(#gg)"/><circle cx="496.9" cy="105.4" r="2.5" fill="url(#gb)"/><circle cx="498.7" cy="99.5" r="2.45" fill="url(#gg)"/><circle cx="437.7" cy="132.6" r="2.5" fill="url(#gb)"/><circle cx="417.2" cy="144.2" r="2.5" fill="url(#gb)"/><circle cx="409.3" cy="143.5" r="2.45" fill="url(#gg)"/><circle cx="499.8" cy="105.3" r="2.5" fill="url(#gb)"/><circle cx="438.2" cy="161.2" r="2.5" fill="url(#gb)"/><circle cx="507.4" cy="67.3" r="2.45" fill="url(#gg)"/><circle cx="427.4" cy="172.2" r="2.45" fill="url(#gg)"/><circle cx="519.8" cy="85.0" r="2.45" fill="url(#gg)"/><circle cx="446.8" cy="122.1" r="2.5" fill="url(#gb)"/><circle cx="415.2" cy="178.0" r="2.5" fill="url(#gb)"/><circle cx="484.6" cy="202.6" r="2.45" fill="url(#gg)"/><circle cx="494.5" cy="172.8" r="2.45" fill="url(#gg)"/><circle cx="506.6" cy="72.0" r="2.45" fill="url(#gg)"/><circle cx="526.1" cy="105.0" r="2.45" fill="url(#gg)"/><circle cx="397.4" cy="163.9" r="2.45" fill="url(#gg)"/><circle cx="470.9" cy="171.6" r="2.5" fill="url(#gb)"/><circle cx="392.0" cy="162.0" r="2.45" fill="url(#gg)"/><circle cx="466.1" cy="180.5" r="2.5" fill="url(#gb)"/><circle cx="477.5" cy="118.3" r="2.5" fill="url(#gb)"/><circle cx="432.2" cy="199.8" r="2.45" fill="url(#gg)"/><circle cx="473.3" cy="78.0" r="2.45" fill="url(#gg)"/><circle cx="494.0" cy="154.6" r="2.45" fill="url(#gg)"/><circle cx="472.8" cy="209.2" r="2.45" fill="url(#gg)"/><circle cx="525.2" cy="153.2" r="2.45" fill="url(#gg)"/><circle cx="502.7" cy="131.6" r="2.45" fill="url(#gg)"/><circle cx="421.0" cy="138.1" r="2.5" fill="url(#gb)"/><circle cx="495.7" cy="94.4" r="2.45" fill="url(#gg)"/><circle cx="438.4" cy="116.2" r="2.5" fill="url(#gb)"/><circle cx="401.9" cy="170.5" r="2.45" fill="url(#gg)"/><circle cx="381.0" cy="158.0" r="2.45" fill="url(#gg)"/><circle cx="501.7" cy="128.6" r="2.45" fill="url(#gg)"/><circle cx="495.0" cy="72.0" r="2.5" fill="url(#gb)"/><circle cx="397.5" cy="158.6" r="2.5" fill="url(#gb)"/><circle cx="456.5" cy="185.4" r="2.5" fill="url(#gb)"/><circle cx="478.3" cy="67.9" r="2.45" fill="url(#gg)"/><circle cx="446.1" cy="116.0" r="2.5" fill="url(#gb)"/><circle cx="486.7" cy="76.1" r="2.45" fill="url(#gg)"/><circle cx="427.8" cy="134.0" r="2.45" fill="url(#gg)"/><circle cx="518.6" cy="135.4" r="2.45" fill="url(#gg)"/><circle cx="478.0" cy="177.5" r="2.5" fill="url(#gb)"/><circle cx="521.6" cy="117.5" r="2.45" fill="url(#gg)"/><circle cx="422.4" cy="186.9" r="2.45" fill="url(#gg)"/><circle cx="451.2" cy="182.3" r="2.45" fill="url(#gg)"/><circle cx="488.6" cy="79.8" r="2.45" fill="url(#gg)"/><circle cx="504.2" cy="168.3" r="2.45" fill="url(#gg)"/><circle cx="493.7" cy="157.6" r="2.45" fill="url(#gg)"/><circle cx="489.4" cy="153.8" r="2.5" fill="url(#gb)"/><circle cx="423.3" cy="143.0" r="2.5" fill="url(#gb)"/><circle cx="431.6" cy="128.4" r="2.5" fill="url(#gb)"/><circle cx="511.0" cy="71.0" r="2.45" fill="url(#gg)"/><circle cx="437.4" cy="174.6" r="2.45" fill="url(#gg)"/><circle cx="508.9" cy="96.5" r="2.45" fill="url(#gg)"/><circle cx="451.7" cy="187.7" r="2.45" fill="url(#gg)"/><circle cx="405.6" cy="205.5" r="2.45" fill="url(#gg)"/><circle cx="502.9" cy="97.2" r="2.5" fill="url(#gb)"/><circle cx="479.9" cy="72.5" r="2.45" fill="url(#gg)"/><circle cx="389.0" cy="126.3" r="2.45" fill="url(#gg)"/><circle cx="425.0" cy="105.8" r="2.45" fill="url(#gg)"/><circle cx="400.0" cy="149.0" r="2.5" fill="url(#gb)"/><circle cx="452.4" cy="181.0" r="2.5" fill="url(#gb)"/><circle cx="464.1" cy="187.6" r="2.45" fill="url(#gg)"/><circle cx="426.9" cy="170.0" r="2.5" fill="url(#gb)"/><circle cx="439.6" cy="199.1" r="2.45" fill="url(#gg)"/><circle cx="515.4" cy="115.8" r="2.45" fill="url(#gg)"/><circle cx="432.8" cy="115.5" r="2.45" fill="url(#gg)"/><circle cx="466.1" cy="178.1" r="2.5" fill="url(#gb)"/><circle cx="464.4" cy="181.6" r="2.45" fill="url(#gg)"/><circle cx="514.3" cy="172.7" r="2.45" fill="url(#gg)"/><circle cx="475.2" cy="170.7" r="2.5" fill="url(#gb)"/><circle cx="512.7" cy="104.3" r="2.45" fill="url(#gg)"/><circle cx="479.5" cy="191.4" r="2.45" fill="url(#gg)"/><circle cx="452.3" cy="84.8" r="2.45" fill="url(#gg)"/><circle cx="523.0" cy="93.0" r="2.45" fill="url(#gg)"/><circle cx="514.0" cy="71.4" r="2.45" fill="url(#gg)"/><circle cx="447.5" cy="67.7" r="2.45" fill="url(#gg)"/><circle cx="409.9" cy="173.8" r="2.5" fill="url(#gb)"/><circle cx="393.3" cy="145.6" r="2.45" fill="url(#gg)"/><circle cx="469.7" cy="90.2" r="2.5" fill="url(#gb)"/><circle cx="452.2" cy="89.8" r="2.45" fill="url(#gg)"/><circle cx="495.8" cy="112.9" r="2.5" fill="url(#gb)"/><circle cx="519.8" cy="148.9" r="2.45" fill="url(#gg)"/><circle cx="478.8" cy="174.7" r="2.5" fill="url(#gb)"/><circle cx="530.3" cy="140.2" r="2.45" fill="url(#gg)"/><circle cx="442.1" cy="110.8" r="2.5" fill="url(#gb)"/><circle cx="459.5" cy="178.3" r="2.5" fill="url(#gb)"/><circle cx="471.4" cy="86.8" r="2.45" fill="url(#gg)"/><circle cx="508.2" cy="148.2" r="2.45" fill="url(#gg)"/><circle cx="440.1" cy="175.3" r="2.45" fill="url(#gg)"/><circle cx="506.0" cy="142.7" r="2.45" fill="url(#gg)"/><circle cx="395.2" cy="163.3" r="2.5" fill="url(#gb)"/><circle cx="397.0" cy="150.5" r="2.5" fill="url(#gb)"/><circle cx="487.1" cy="60.1" r="2.45" fill="url(#gg)"/><circle cx="506.6" cy="82.5" r="2.45" fill="url(#gg)"/><circle cx="413.9" cy="172.9" r="2.5" fill="url(#gb)"/><circle cx="525.9" cy="165.1" r="2.45" fill="url(#gg)"/><circle cx="439.6" cy="99.5" r="2.45" fill="url(#gg)"/><circle cx="513.2" cy="145.4" r="2.45" fill="url(#gg)"/><circle cx="472.4" cy="222.2" r="2.45" fill="url(#gg)"/><circle cx="446.0" cy="214.3" r="2.45" fill="url(#gg)"/><circle cx="442.0" cy="126.2" r="2.5" fill="url(#gb)"/><circle cx="497.7" cy="80.1" r="2.45" fill="url(#gg)"/><circle cx="482.1" cy="80.9" r="2.45" fill="url(#gg)"/><circle cx="511.3" cy="138.3" r="2.45" fill="url(#gg)"/><circle cx="477.8" cy="94.4" r="2.5" fill="url(#gb)"/><circle cx="500.7" cy="118.9" r="2.45" fill="url(#gg)"/><circle cx="423.8" cy="183.7" r="2.45" fill="url(#gg)"/><circle cx="464.9" cy="206.3" r="2.45" fill="url(#gg)"/><circle cx="504.0" cy="191.2" r="2.45" fill="url(#gg)"/><circle cx="432.1" cy="174.4" r="2.5" fill="url(#gb)"/><circle cx="411.3" cy="135.9" r="2.45" fill="url(#gg)"/><circle cx="495.8" cy="144.1" r="2.45" fill="url(#gg)"/><circle cx="465.4" cy="214.3" r="2.45" fill="url(#gg)"/><circle cx="508.9" cy="116.2" r="2.45" fill="url(#gg)"/><circle cx="415.6" cy="131.0" r="2.45" fill="url(#gg)"/><circle cx="520.9" cy="144.0" r="2.45" fill="url(#gg)"/><circle cx="445.0" cy="218.7" r="2.45" fill="url(#gg)"/><circle cx="425.0" cy="84.0" r="2.45" fill="url(#gg)"/><circle cx="506.1" cy="110.2" r="2.45" fill="url(#gg)"/><circle cx="486.1" cy="193.9" r="2.45" fill="url(#gg)"/><circle cx="490.2" cy="158.0" r="2.45" fill="url(#gg)"/><circle cx="470.3" cy="95.0" r="2.45" fill="url(#gg)"/><circle cx="476.8" cy="91.3" r="2.45" fill="url(#gg)"/><circle cx="384.6" cy="117.5" r="2.45" fill="url(#gg)"/><circle cx="493.8" cy="192.9" r="2.45" fill="url(#gg)"/><circle cx="525.6" cy="101.7" r="2.45" fill="url(#gg)"/><circle cx="403.7" cy="146.1" r="2.45" fill="url(#gg)"/><circle cx="445.1" cy="174.8" r="2.5" fill="url(#gb)"/><circle cx="525.9" cy="158.0" r="2.45" fill="url(#gg)"/><circle cx="439.5" cy="206.9" r="2.45" fill="url(#gg)"/><circle cx="414.8" cy="140.4" r="2.5" fill="url(#gb)"/><circle cx="463.8" cy="94.8" r="2.45" fill="url(#gg)"/><circle cx="491.7" cy="202.0" r="2.45" fill="url(#gg)"/><circle cx="515.7" cy="132.6" r="2.45" fill="url(#gg)"/><circle cx="468.9" cy="195.1" r="2.45" fill="url(#gg)"/><circle cx="443.9" cy="97.0" r="2.5" fill="url(#gb)"/><circle cx="457.3" cy="204.5" r="2.45" fill="url(#gg)"/><circle cx="430.0" cy="187.9" r="2.45" fill="url(#gg)"/><circle cx="542.6" cy="131.6" r="2.45" fill="url(#gg)"/><circle cx="442.5" cy="100.2" r="2.45" fill="url(#gg)"/><circle cx="464.3" cy="218.5" r="2.45" fill="url(#gg)"/><circle cx="493.0" cy="161.4" r="2.45" fill="url(#gg)"/><circle cx="467.4" cy="175.4" r="2.5" fill="url(#gb)"/><circle cx="457.0" cy="65.8" r="2.45" fill="url(#gg)"/><circle cx="446.8" cy="172.3" r="2.5" fill="url(#gb)"/><circle cx="519.9" cy="163.8" r="2.45" fill="url(#gg)"/><circle cx="467.8" cy="86.7" r="2.45" fill="url(#gg)"/><circle cx="397.9" cy="162.7" r="2.5" fill="url(#gb)"/><circle cx="449.1" cy="91.0" r="2.45" fill="url(#gg)"/><circle cx="497.8" cy="158.3" r="2.45" fill="url(#gg)"/><circle cx="441.8" cy="191.9" r="2.45" fill="url(#gg)"/><circle cx="449.2" cy="62.8" r="2.45" fill="url(#gg)"/><circle cx="511.9" cy="123.5" r="2.45" fill="url(#gg)"/><circle cx="411.8" cy="89.5" r="2.45" fill="url(#gg)"/><circle cx="495.0" cy="130.5" r="2.5" fill="url(#gb)"/><circle cx="415.0" cy="142.8" r="2.45" fill="url(#gg)"/><circle cx="517.6" cy="122.9" r="2.45" fill="url(#gg)"/><circle cx="522.0" cy="129.8" r="2.45" fill="url(#gg)"/><circle cx="393.3" cy="157.0" r="2.45" fill="url(#gg)"/><circle cx="463.4" cy="165.8" r="2.5" fill="url(#gb)"/><circle cx="440.9" cy="171.0" r="2.5" fill="url(#gb)"/><circle cx="522.5" cy="103.9" r="2.45" fill="url(#gg)"/><circle cx="525.2" cy="136.8" r="2.45" fill="url(#gg)"/><circle cx="520.1" cy="141.0" r="2.45" fill="url(#gg)"/><circle cx="493.4" cy="148.7" r="2.45" fill="url(#gg)"/><circle cx="459.0" cy="173.5" r="2.5" fill="url(#gb)"/><circle cx="418.8" cy="176.6" r="2.5" fill="url(#gb)"/><circle cx="380.0" cy="167.5" r="2.45" fill="url(#gg)"/><circle cx="443.7" cy="185.6" r="2.45" fill="url(#gg)"/><circle cx="477.1" cy="88.2" r="2.45" fill="url(#gg)"/><circle cx="429.4" cy="100.7" r="2.45" fill="url(#gg)"/><circle cx="490.3" cy="140.0" r="2.5" fill="url(#gb)"/><circle cx="501.4" cy="67.5" r="2.45" fill="url(#gg)"/><circle cx="460.0" cy="181.2" r="2.5" fill="url(#gb)"/><circle cx="410.9" cy="165.1" r="2.5" fill="url(#gb)"/><circle cx="407.6" cy="125.2" r="2.45" fill="url(#gg)"/><circle cx="386.0" cy="140.0" r="2.45" fill="url(#gg)"/><circle cx="494.6" cy="100.2" r="2.5" fill="url(#gb)"/><circle cx="494.7" cy="72.6" r="2.45" fill="url(#gg)"/><circle cx="498.3" cy="175.8" r="2.45" fill="url(#gg)"/><circle cx="418.3" cy="119.0" r="2.45" fill="url(#gg)"/><circle cx="423.5" cy="176.5" r="2.5" fill="url(#gb)"/><circle cx="490.0" cy="163.9" r="2.5" fill="url(#gb)"/><circle cx="504.5" cy="138.2" r="2.45" fill="url(#gg)"/><circle cx="453.7" cy="204.4" r="2.45" fill="url(#gg)"/><circle cx="470.1" cy="90.1" r="2.45" fill="url(#gg)"/><circle cx="407.4" cy="162.8" r="2.5" fill="url(#gb)"/><circle cx="434.6" cy="184.2" r="2.45" fill="url(#gg)"/><circle cx="486.8" cy="163.9" r="2.45" fill="url(#gg)"/><circle cx="491.5" cy="186.0" r="2.5" fill="url(#gb)"/><circle cx="514.1" cy="160.4" r="2.45" fill="url(#gg)"/><circle cx="392.5" cy="183.3" r="2.45" fill="url(#gg)"/><circle cx="487.7" cy="92.8" r="2.5" fill="url(#gb)"/><circle cx="434.3" cy="131.6" r="2.5" fill="url(#gb)"/><circle cx="511.2" cy="114.5" r="2.45" fill="url(#gg)"/><circle cx="426.2" cy="179.3" r="2.45" fill="url(#gg)"/><circle cx="506.8" cy="75.8" r="2.45" fill="url(#gg)"/><circle cx="505.1" cy="80.2" r="2.45" fill="url(#gg)"/><circle cx="466.7" cy="229.3" r="2.45" fill="url(#gg)"/><circle cx="436.5" cy="127.1" r="2.5" fill="url(#gb)"/><circle cx="446.9" cy="119.2" r="2.5" fill="url(#gb)"/><circle cx="493.6" cy="84.2" r="2.5" fill="url(#gb)"/><circle cx="455.0" cy="83.7" r="2.45" fill="url(#gg)"/><circle cx="385.4" cy="169.3" r="2.45" fill="url(#gg)"/><circle cx="419.4" cy="130.7" r="2.45" fill="url(#gg)"/><circle cx="472.9" cy="178.6" r="2.45" fill="url(#gg)"/><circle cx="513.6" cy="152.8" r="2.45" fill="url(#gg)"/><circle cx="518.5" cy="107.3" r="2.45" fill="url(#gg)"/><circle cx="500.1" cy="71.3" r="2.45" fill="url(#gg)"/><circle cx="451.4" cy="173.4" r="2.5" fill="url(#gb)"/><circle cx="473.3" cy="187.5" r="2.45" fill="url(#gg)"/><circle cx="402.5" cy="163.4" r="2.5" fill="url(#gb)"/><circle cx="490.1" cy="168.1" r="2.45" fill="url(#gg)"/><circle cx="525.3" cy="107.7" r="2.45" fill="url(#gg)"/><circle cx="523.7" cy="162.0" r="2.45" fill="url(#gg)"/><circle cx="491.3" cy="145.5" r="2.5" fill="url(#gb)"/><circle cx="382.0" cy="176.3" r="2.45" fill="url(#gg)"/><circle cx="465.0" cy="88.3" r="2.45" fill="url(#gg)"/><circle cx="478.9" cy="188.7" r="2.45" fill="url(#gg)"/><circle cx="506.0" cy="125.3" r="2.45" fill="url(#gg)"/><circle cx="435.8" cy="143.2" r="2.5" fill="url(#gb)"/><circle cx="412.8" cy="139.2" r="2.45" fill="url(#gg)"/><circle cx="432.7" cy="85.6" r="2.45" fill="url(#gg)"/><circle cx="460.7" cy="184.0" r="2.5" fill="url(#gb)"/><circle cx="446.1" cy="165.3" r="2.5" fill="url(#gb)"/><circle cx="411.9" cy="150.6" r="2.5" fill="url(#gb)"/><circle cx="432.6" cy="140.1" r="2.5" fill="url(#gb)"/><circle cx="440.6" cy="120.8" r="2.5" fill="url(#gb)"/><circle cx="496.5" cy="133.1" r="2.5" fill="url(#gb)"/><circle cx="504.2" cy="123.1" r="2.45" fill="url(#gg)"/><circle cx="491.8" cy="201.6" r="2.45" fill="url(#gg)"/><circle cx="431.1" cy="103.1" r="2.45" fill="url(#gg)"/><circle cx="506.0" cy="178.9" r="2.45" fill="url(#gg)"/><circle cx="456.2" cy="198.0" r="2.45" fill="url(#gg)"/><circle cx="424.0" cy="127.2" r="2.45" fill="url(#gg)"/><circle cx="520.9" cy="177.3" r="2.45" fill="url(#gg)"/><circle cx="479.6" cy="164.2" r="2.5" fill="url(#gb)"/><circle cx="464.6" cy="197.9" r="2.45" fill="url(#gg)"/><circle cx="402.0" cy="149.9" r="2.45" fill="url(#gg)"/><circle cx="410.7" cy="149.8" r="2.45" fill="url(#gg)"/><circle cx="412.2" cy="145.5" r="2.45" fill="url(#gg)"/><circle cx="512.1" cy="163.1" r="2.45" fill="url(#gg)"/><circle cx="413.5" cy="175.6" r="2.45" fill="url(#gg)"/><circle cx="438.5" cy="190.3" r="2.45" fill="url(#gg)"/><circle cx="423.6" cy="168.3" r="2.5" fill="url(#gb)"/><circle cx="508.1" cy="138.7" r="2.45" fill="url(#gg)"/><circle cx="525.9" cy="110.7" r="2.45" fill="url(#gg)"/><circle cx="408.4" cy="151.7" r="2.5" fill="url(#gb)"/><circle cx="454.8" cy="178.6" r="2.45" fill="url(#gg)"/><circle cx="405.6" cy="97.4" r="2.45" fill="url(#gg)"/><circle cx="421.3" cy="171.5" r="2.5" fill="url(#gb)"/><circle cx="503.9" cy="192.2" r="2.45" fill="url(#gg)"/><circle cx="483.7" cy="81.3" r="2.5" fill="url(#gb)"/><circle cx="428.8" cy="191.2" r="2.45" fill="url(#gg)"/><circle cx="447.2" cy="93.6" r="2.45" fill="url(#gg)"/><circle cx="410.4" cy="104.1" r="2.45" fill="url(#gg)"/><circle cx="480.5" cy="113.2" r="2.5" fill="url(#gb)"/><circle cx="438.2" cy="171.4" r="2.45" fill="url(#gg)"/><circle cx="398.5" cy="153.0" r="2.5" fill="url(#gb)"/><circle cx="489.2" cy="160.2" r="2.5" fill="url(#gb)"/><circle cx="395.6" cy="152.9" r="2.45" fill="url(#gg)"/><circle cx="517.2" cy="126.5" r="2.45" fill="url(#gg)"/><circle cx="485.7" cy="190.1" r="2.45" fill="url(#gg)"/><circle cx="433.0" cy="121.2" r="2.45" fill="url(#gg)"/><circle cx="524.3" cy="90.1" r="2.45" fill="url(#gg)"/><circle cx="391.6" cy="167.5" r="2.45" fill="url(#gg)"/><circle cx="422.4" cy="122.4" r="2.45" fill="url(#gg)"/><circle cx="505.3" cy="175.0" r="2.45" fill="url(#gg)"/><circle cx="482.6" cy="84.7" r="2.5" fill="url(#gb)"/><circle cx="451.5" cy="76.5" r="2.45" fill="url(#gg)"/><circle cx="459.0" cy="214.3" r="2.45" fill="url(#gg)"/><circle cx="521.8" cy="100.4" r="2.45" fill="url(#gg)"/><circle cx="448.7" cy="85.3" r="2.45" fill="url(#gg)"/><circle cx="461.1" cy="209.2" r="2.45" fill="url(#gg)"/><circle cx="479.8" cy="92.9" r="2.5" fill="url(#gb)"/><circle cx="427.9" cy="131.5" r="2.5" fill="url(#gb)"/><circle cx="519.7" cy="166.7" r="2.45" fill="url(#gg)"/><circle cx="433.6" cy="193.1" r="2.45" fill="url(#gg)"/><circle cx="458.6" cy="107.3" r="2.5" fill="url(#gb)"/><circle cx="446.9" cy="191.0" r="2.45" fill="url(#gg)"/><circle cx="510.8" cy="152.3" r="2.45" fill="url(#gg)"/><circle cx="429.8" cy="118.9" r="2.45" fill="url(#gg)"/><circle cx="435.9" cy="143.8" r="2.45" fill="url(#gg)"/><circle cx="494.0" cy="177.5" r="2.5" fill="url(#gb)"/><circle cx="403.5" cy="136.0" r="2.45" fill="url(#gg)"/><circle cx="482.9" cy="172.9" r="2.45" fill="url(#gg)"/><circle cx="410.7" cy="108.5" r="2.45" fill="url(#gg)"/><circle cx="494.6" cy="107.2" r="2.5" fill="url(#gb)"/><circle cx="400.1" cy="147.6" r="2.45" fill="url(#gg)"/><circle cx="445.8" cy="82.5" r="2.45" fill="url(#gg)"/><circle cx="443.4" cy="177.7" r="2.45" fill="url(#gg)"/><circle cx="497.9" cy="129.0" r="2.5" fill="url(#gb)"/><circle cx="504.7" cy="163.7" r="2.45" fill="url(#gg)"/><circle cx="449.3" cy="178.6" r="2.5" fill="url(#gb)"/><circle cx="397.0" cy="159.0" r="2.45" fill="url(#gg)"/><circle cx="457.3" cy="95.0" r="2.45" fill="url(#gg)"/><circle cx="516.9" cy="171.4" r="2.45" fill="url(#gg)"/><circle cx="447.3" cy="163.0" r="2.5" fill="url(#gb)"/><circle cx="520.1" cy="182.8" r="2.45" fill="url(#gg)"/><circle cx="514.0" cy="96.0" r="2.5" fill="url(#gb)"/><circle cx="509.8" cy="129.0" r="2.5" fill="url(#gb)"/><circle cx="443.8" cy="169.3" r="2.45" fill="url(#gg)"/><circle cx="429.6" cy="114.8" r="2.45" fill="url(#gg)"/><circle cx="430.6" cy="147.6" r="2.5" fill="url(#gb)"/><circle cx="457.6" cy="211.5" r="2.45" fill="url(#gg)"/><circle cx="502.0" cy="116.4" r="2.45" fill="url(#gg)"/><circle cx="406.2" cy="158.3" r="2.5" fill="url(#gb)"/><circle cx="462.8" cy="60.5" r="2.45" fill="url(#gg)"/><circle cx="468.1" cy="186.3" r="2.45" fill="url(#gg)"/><circle cx="520.0" cy="132.9" r="2.45" fill="url(#gg)"/><circle cx="428.7" cy="106.6" r="2.45" fill="url(#gg)"/><circle cx="431.4" cy="97.6" r="2.45" fill="url(#gg)"/><circle cx="469.8" cy="204.0" r="2.45" fill="url(#gg)"/><circle cx="504.7" cy="73.8" r="2.45" fill="url(#gg)"/><circle cx="509.1" cy="116.1" r="2.5" fill="url(#gb)"/><circle cx="446.6" cy="201.7" r="2.45" fill="url(#gg)"/><circle cx="407.4" cy="170.3" r="2.5" fill="url(#gb)"/><circle cx="431.2" cy="180.1" r="2.45" fill="url(#gg)"/><circle cx="428.1" cy="95.7" r="2.45" fill="url(#gg)"/><circle cx="429.7" cy="138.8" r="2.5" fill="url(#gb)"/><circle cx="482.5" cy="116.7" r="2.5" fill="url(#gb)"/><circle cx="514.6" cy="167.0" r="2.45" fill="url(#gg)"/><circle cx="463.3" cy="168.8" r="2.5" fill="url(#gb)"/><circle cx="401.7" cy="126.3" r="2.45" fill="url(#gg)"/><circle cx="402.5" cy="171.1" r="2.5" fill="url(#gb)"/><circle cx="421.9" cy="196.5" r="2.45" fill="url(#gg)"/><circle cx="515.7" cy="84.9" r="2.45" fill="url(#gg)"/><circle cx="400.0" cy="171.5" r="2.45" fill="url(#gg)"/><circle cx="507.4" cy="171.5" r="2.45" fill="url(#gg)"/><circle cx="539.0" cy="107.0" r="2.45" fill="url(#gg)"/><circle cx="455.2" cy="95.4" r="2.5" fill="url(#gb)"/><circle cx="395.9" cy="156.2" r="2.45" fill="url(#gg)"/><circle cx="524.9" cy="130.7" r="2.45" fill="url(#gg)"/><circle cx="455.9" cy="75.6" r="2.45" fill="url(#gg)"/><circle cx="493.9" cy="150.3" r="2.5" fill="url(#gb)"/><circle cx="513.2" cy="112.2" r="2.45" fill="url(#gg)"/><circle cx="539.1" cy="122.7" r="2.45" fill="url(#gg)"/><circle cx="406.3" cy="118.7" r="2.45" fill="url(#gg)"/><circle cx="508.9" cy="127.4" r="2.45" fill="url(#gg)"/><circle cx="395.6" cy="134.1" r="2.45" fill="url(#gg)"/><circle cx="488.7" cy="84.4" r="2.45" fill="url(#gg)"/><circle cx="464.5" cy="184.5" r="2.45" fill="url(#gg)"/><circle cx="462.7" cy="204.5" r="2.45" fill="url(#gg)"/><circle cx="513.4" cy="77.1" r="2.45" fill="url(#gg)"/><circle cx="481.2" cy="63.6" r="2.45" fill="url(#gg)"/><circle cx="468.0" cy="181.8" r="2.45" fill="url(#gg)"/><circle cx="426.5" cy="166.7" r="2.5" fill="url(#gb)"/><circle cx="515.4" cy="129.0" r="2.45" fill="url(#gg)"/><circle cx="411.0" cy="158.5" r="2.5" fill="url(#gb)"/><circle cx="499.8" cy="82.1" r="2.45" fill="url(#gg)"/><circle cx="402.7" cy="123.1" r="2.45" fill="url(#gg)"/><circle cx="514.5" cy="74.6" r="2.45" fill="url(#gg)"/><circle cx="425.5" cy="199.8" r="2.45" fill="url(#gg)"/><circle cx="404.8" cy="147.9" r="2.5" fill="url(#gb)"/><circle cx="432.3" cy="106.0" r="2.45" fill="url(#gg)"/><circle cx="498.7" cy="168.5" r="2.45" fill="url(#gg)"/><circle cx="452.7" cy="168.9" r="2.5" fill="url(#gb)"/><circle cx="459.4" cy="191.0" r="2.5" fill="url(#gb)"/><circle cx="431.9" cy="135.0" r="2.5" fill="url(#gb)"/><circle cx="531.7" cy="114.9" r="2.45" fill="url(#gg)"/><circle cx="419.2" cy="104.4" r="2.45" fill="url(#gg)"/><circle cx="468.1" cy="66.1" r="2.45" fill="url(#gg)"/><circle cx="508.9" cy="186.5" r="2.45" fill="url(#gg)"/><circle cx="429.7" cy="173.8" r="2.45" fill="url(#gg)"/><circle cx="446.2" cy="104.7" r="2.5" fill="url(#gb)"/><circle cx="498.2" cy="86.4" r="2.45" fill="url(#gg)"/><circle cx="486.7" cy="182.1" r="2.45" fill="url(#gg)"/><circle cx="457.0" cy="178.7" r="2.5" fill="url(#gb)"/><circle cx="493.2" cy="187.2" r="2.45" fill="url(#gg)"/><circle cx="450.2" cy="169.7" r="2.5" fill="url(#gb)"/><circle cx="455.5" cy="112.1" r="2.5" fill="url(#gb)"/><circle cx="416.1" cy="151.5" r="2.5" fill="url(#gb)"/><circle cx="463.5" cy="72.6" r="2.45" fill="url(#gg)"/><circle cx="472.9" cy="91.4" r="2.45" fill="url(#gg)"/><circle cx="540.0" cy="113.0" r="2.45" fill="url(#gg)"/><circle cx="500.8" cy="137.4" r="2.45" fill="url(#gg)"/><circle cx="412.3" cy="181.1" r="2.45" fill="url(#gg)"/><circle cx="408.1" cy="147.3" r="2.45" fill="url(#gg)"/><circle cx="489.1" cy="192.7" r="2.45" fill="url(#gg)"/><circle cx="500.0" cy="140.6" r="2.45" fill="url(#gg)"/><circle cx="427.1" cy="183.0" r="2.45" fill="url(#gg)"/><circle cx="459.2" cy="83.7" r="2.45" fill="url(#gg)"/><circle cx="480.6" cy="76.2" r="2.45" fill="url(#gg)"/><circle cx="481.3" cy="200.5" r="2.45" fill="url(#gg)"/><circle cx="487.7" cy="148.9" r="2.5" fill="url(#gb)"/><circle cx="476.4" cy="186.2" r="2.45" fill="url(#gg)"/><circle cx="429.7" cy="171.3" r="2.5" fill="url(#gb)"/><circle cx="432.1" cy="189.7" r="2.45" fill="url(#gg)"/><circle cx="435.4" cy="86.7" r="2.45" fill="url(#gg)"/><circle cx="532.0" cy="151.8" r="2.45" fill="url(#gg)"/><circle cx="504.9" cy="79.8" r="2.45" fill="url(#gg)"/><circle cx="438.1" cy="109.9" r="2.5" fill="url(#gb)"/><circle cx="395.8" cy="153.9" r="2.5" fill="url(#gb)"/><circle cx="405.4" cy="153.5" r="2.5" fill="url(#gb)"/><circle cx="389.0" cy="153.5" r="2.45" fill="url(#gg)"/><circle cx="491.1" cy="189.1" r="2.45" fill="url(#gg)"/><circle cx="496.5" cy="70.2" r="2.45" fill="url(#gg)"/><circle cx="470.2" cy="174.0" r="2.45" fill="url(#gg)"/><circle cx="422.6" cy="107.4" r="2.45" fill="url(#gg)"/><circle cx="493.5" cy="66.7" r="2.45" fill="url(#gg)"/><circle cx="421.6" cy="179.7" r="2.5" fill="url(#gb)"/><circle cx="406.6" cy="137.2" r="2.45" fill="url(#gg)"/><circle cx="514.4" cy="149.9" r="2.45" fill="url(#gg)"/><circle cx="502.7" cy="125.8" r="2.45" fill="url(#gg)"/><circle cx="459.5" cy="74.1" r="2.45" fill="url(#gg)"/><circle cx="442.5" cy="68.4" r="2.45" fill="url(#gg)"/><circle cx="519.2" cy="120.7" r="2.45" fill="url(#gg)"/><circle cx="486.0" cy="67.9" r="2.45" fill="url(#gg)"/><circle cx="435.6" cy="199.0" r="2.45" fill="url(#gg)"/><circle cx="425.1" cy="123.4" r="2.45" fill="url(#gg)"/><circle cx="512.8" cy="78.0" r="2.45" fill="url(#gg)"/><circle cx="449.5" cy="175.5" r="2.5" fill="url(#gb)"/><circle cx="418.4" cy="148.3" r="2.5" fill="url(#gb)"/><circle cx="510.0" cy="165.3" r="2.45" fill="url(#gg)"/><circle cx="466.8" cy="56.5" r="2.45" fill="url(#gg)"/><circle cx="445.0" cy="195.6" r="2.45" fill="url(#gg)"/><circle cx="512.5" cy="109.1" r="2.45" fill="url(#gg)"/><circle cx="462.7" cy="174.1" r="2.5" fill="url(#gb)"/><circle cx="396.8" cy="165.9" r="2.5" fill="url(#gb)"/><circle cx="504.5" cy="140.7" r="2.5" fill="url(#gb)"/><circle cx="493.6" cy="75.7" r="2.45" fill="url(#gg)"/><circle cx="516.5" cy="90.6" r="2.45" fill="url(#gg)"/><circle cx="461.2" cy="137.7" r="2.5" fill="url(#gb)"/><circle cx="399.1" cy="131.9" r="2.45" fill="url(#gg)"/><circle cx="395.7" cy="137.2" r="2.45" fill="url(#gg)"/><circle cx="475.0" cy="61.4" r="2.45" fill="url(#gg)"/><circle cx="423.3" cy="119.6" r="2.45" fill="url(#gg)"/><circle cx="457.2" cy="193.9" r="2.45" fill="url(#gg)"/><circle cx="419.6" cy="188.5" r="2.45" fill="url(#gg)"/><circle cx="431.2" cy="183.4" r="2.45" fill="url(#gg)"/><circle cx="475.6" cy="79.8" r="2.45" fill="url(#gg)"/><circle cx="454.4" cy="175.4" r="2.5" fill="url(#gb)"/><circle cx="407.1" cy="190.7" r="2.45" fill="url(#gg)"/><circle cx="513.2" cy="127.2" r="2.45" fill="url(#gg)"/><circle cx="485.3" cy="111.7" r="2.5" fill="url(#gb)"/><circle cx="451.3" cy="175.2" r="2.45" fill="url(#gg)"/><circle cx="472.5" cy="182.5" r="2.45" fill="url(#gg)"/><circle cx="485.7" cy="154.5" r="2.5" fill="url(#gb)"/><circle cx="438.1" cy="154.1" r="2.5" fill="url(#gb)"/><circle cx="467.9" cy="206.2" r="2.45" fill="url(#gg)"/><circle cx="476.0" cy="211.7" r="2.45" fill="url(#gg)"/><circle cx="440.0" cy="75.8" r="2.45" fill="url(#gg)"/><circle cx="501.0" cy="102.1" r="2.45" fill="url(#gg)"/><circle cx="437.4" cy="196.1" r="2.45" fill="url(#gg)"/><circle cx="407.2" cy="134.5" r="2.45" fill="url(#gg)"/><circle cx="503.1" cy="171.0" r="2.45" fill="url(#gg)"/><circle cx="415.8" cy="165.7" r="2.5" fill="url(#gb)"/><circle cx="469.6" cy="177.9" r="2.45" fill="url(#gg)"/><circle cx="436.2" cy="119.9" r="2.5" fill="url(#gb)"/><circle cx="419.6" cy="135.4" r="2.45" fill="url(#gg)"/><circle cx="499.2" cy="111.4" r="2.45" fill="url(#gg)"/><circle cx="495.0" cy="146.8" r="2.5" fill="url(#gb)"/><circle cx="498.1" cy="134.2" r="2.45" fill="url(#gg)"/><circle cx="469.8" cy="179.8" r="2.5" fill="url(#gb)"/><circle cx="428.6" cy="124.8" r="2.45" fill="url(#gg)"/><circle cx="418.0" cy="97.4" r="2.45" fill="url(#gg)"/><circle cx="491.0" cy="148.7" r="2.5" fill="url(#gb)"/><circle cx="490.7" cy="126.8" r="2.5" fill="url(#gb)"/><circle cx="494.7" cy="164.7" r="2.45" fill="url(#gg)"/><circle cx="449.9" cy="95.8" r="2.45" fill="url(#gg)"/><circle cx="483.1" cy="191.3" r="2.45" fill="url(#gg)"/><circle cx="458.9" cy="78.4" r="2.45" fill="url(#gg)"/><circle cx="416.3" cy="138.9" r="2.45" fill="url(#gg)"/><circle cx="486.9" cy="176.1" r="2.45" fill="url(#gg)"/><circle cx="377.5" cy="143.9" r="2.45" fill="url(#gg)"/><circle cx="505.0" cy="87.7" r="2.45" fill="url(#gg)"/><circle cx="493.3" cy="153.8" r="2.5" fill="url(#gb)"/><circle cx="444.5" cy="65.9" r="2.45" fill="url(#gg)"/><circle cx="414.9" cy="181.5" r="2.5" fill="url(#gb)"/><circle cx="441.2" cy="182.7" r="2.45" fill="url(#gg)"/><circle cx="426.1" cy="176.6" r="2.5" fill="url(#gb)"/><circle cx="480.7" cy="212.5" r="2.45" fill="url(#gg)"/><circle cx="444.3" cy="79.6" r="2.45" fill="url(#gg)"/><circle cx="510.3" cy="160.3" r="2.45" fill="url(#gg)"/><circle cx="418.0" cy="101.0" r="2.45" fill="url(#gg)"/><circle cx="415.9" cy="109.4" r="2.45" fill="url(#gg)"/><circle cx="479.1" cy="82.0" r="2.45" fill="url(#gg)"/><circle cx="506.8" cy="183.3" r="2.45" fill="url(#gg)"/><circle cx="500.0" cy="75.0" r="2.5" fill="url(#gb)"/><circle cx="408.3" cy="177.1" r="2.45" fill="url(#gg)"/><circle cx="513.7" cy="184.3" r="2.45" fill="url(#gg)"/><circle cx="522.2" cy="135.3" r="2.45" fill="url(#gg)"/><circle cx="477.1" cy="166.3" r="2.5" fill="url(#gb)"/><circle cx="530.3" cy="134.9" r="2.45" fill="url(#gg)"/><circle cx="482.0" cy="200.0" r="2.45" fill="url(#gg)"/><circle cx="432.1" cy="176.2" r="2.45" fill="url(#gg)"/><circle cx="424.2" cy="110.3" r="2.45" fill="url(#gg)"/><circle cx="467.0" cy="62.2" r="2.45" fill="url(#gg)"/><circle cx="466.0" cy="83.2" r="2.45" fill="url(#gg)"/><circle cx="532.0" cy="144.0" r="2.45" fill="url(#gg)"/><circle cx="464.2" cy="211.4" r="2.45" fill="url(#gg)"/><circle cx="488.7" cy="70.7" r="2.45" fill="url(#gg)"/><circle cx="457.3" cy="180.3" r="2.45" fill="url(#gg)"/><circle cx="500.5" cy="150.6" r="2.45" fill="url(#gg)"/><circle cx="510.1" cy="168.3" r="2.45" fill="url(#gg)"/><circle cx="435.8" cy="135.0" r="2.5" fill="url(#gb)"/><circle cx="455.4" cy="172.1" r="2.5" fill="url(#gb)"/><circle cx="389.0" cy="178.0" r="2.45" fill="url(#gg)"/><circle cx="409.0" cy="182.7" r="2.45" fill="url(#gg)"/><circle cx="402.0" cy="202.0" r="2.45" fill="url(#gg)"/><circle cx="427.2" cy="81.9" r="2.45" fill="url(#gg)"/><circle cx="463.1" cy="93.3" r="2.5" fill="url(#gb)"/><circle cx="449.1" cy="197.4" r="2.45" fill="url(#gg)"/><circle cx="522.6" cy="167.7" r="2.45" fill="url(#gg)"/><circle cx="426.3" cy="89.4" r="2.45" fill="url(#gg)"/><circle cx="497.5" cy="73.8" r="2.45" fill="url(#gg)"/><circle cx="489.5" cy="73.8" r="2.45" fill="url(#gg)"/><circle cx="465.0" cy="201.8" r="2.45" fill="url(#gg)"/><circle cx="494.0" cy="134.8" r="2.5" fill="url(#gb)"/><circle cx="483.3" cy="176.1" r="2.45" fill="url(#gg)"/><circle cx="458.9" cy="87.0" r="2.45" fill="url(#gg)"/><circle cx="475.4" cy="79.4" r="2.5" fill="url(#gb)"/><circle cx="506.1" cy="107.4" r="2.45" fill="url(#gg)"/><circle cx="474.7" cy="83.9" r="2.5" fill="url(#gb)"/><circle cx="430.5" cy="122.8" r="2.5" fill="url(#gb)"/><circle cx="476.6" cy="190.2" r="2.45" fill="url(#gg)"/><circle cx="448.0" cy="182.0" r="2.5" fill="url(#gb)"/><circle cx="466.2" cy="105.0" r="2.5" fill="url(#gb)"/><circle cx="445.5" cy="179.6" r="2.45" fill="url(#gg)"/><circle cx="453.5" cy="156.8" r="2.5" fill="url(#gb)"/><circle cx="438.6" cy="80.6" r="2.45" fill="url(#gg)"/><circle cx="418.0" cy="164.7" r="2.5" fill="url(#gb)"/><circle cx="376.7" cy="153.5" r="2.45" fill="url(#gg)"/><circle cx="453.5" cy="93.9" r="2.45" fill="url(#gg)"/><circle cx="533.5" cy="134.1" r="2.45" fill="url(#gg)"/><circle cx="435.5" cy="187.5" r="2.45" fill="url(#gg)"/><circle cx="524.0" cy="86.8" r="2.45" fill="url(#gg)"/><circle cx="482.6" cy="74.2" r="2.45" fill="url(#gg)"/><circle cx="484.2" cy="109.0" r="2.5" fill="url(#gb)"/><circle cx="485.7" cy="81.2" r="2.45" fill="url(#gg)"/><circle cx="414.8" cy="175.3" r="2.5" fill="url(#gb)"/><circle cx="509.8" cy="100.7" r="2.45" fill="url(#gg)"/><circle cx="466.1" cy="97.1" r="2.45" fill="url(#gg)"/><circle cx="434.4" cy="79.7" r="2.45" fill="url(#gg)"/><circle cx="463.5" cy="66.3" r="2.45" fill="url(#gg)"/><circle cx="441.8" cy="101.2" r="2.5" fill="url(#gb)"/><circle cx="530.4" cy="112.0" r="2.45" fill="url(#gg)"/><circle cx="437.5" cy="203.2" r="2.45" fill="url(#gg)"/><circle cx="433.8" cy="109.0" r="2.45" fill="url(#gg)"/><circle cx="396.0" cy="154.5" r="2.45" fill="url(#gg)"/><circle cx="437.0" cy="217.8" r="2.45" fill="url(#gg)"/><circle cx="466.1" cy="172.7" r="2.5" fill="url(#gb)"/><circle cx="437.7" cy="174.7" r="2.5" fill="url(#gb)"/><circle cx="408.3" cy="178.0" r="2.5" fill="url(#gb)"/><circle cx="421.2" cy="139.6" r="2.45" fill="url(#gg)"/><circle cx="426.1" cy="188.6" r="2.45" fill="url(#gg)"/><circle cx="454.4" cy="209.2" r="2.45" fill="url(#gg)"/><circle cx="501.4" cy="167.4" r="2.45" fill="url(#gg)"/><circle cx="401.5" cy="167.1" r="2.45" fill="url(#gg)"/><circle cx="434.3" cy="196.2" r="2.45" fill="url(#gg)"/><circle cx="414.7" cy="115.6" r="2.45" fill="url(#gg)"/><circle cx="432.2" cy="161.3" r="2.5" fill="url(#gb)"/><circle cx="506.3" cy="130.0" r="2.45" fill="url(#gg)"/><circle cx="409.1" cy="156.4" r="2.5" fill="url(#gb)"/><circle cx="484.5" cy="148.6" r="2.5" fill="url(#gb)"/><circle cx="374.0" cy="159.6" r="2.45" fill="url(#gg)"/><circle cx="431.7" cy="111.9" r="2.45" fill="url(#gg)"/><circle cx="447.9" cy="80.6" r="2.45" fill="url(#gg)"/><circle cx="482.6" cy="179.8" r="2.45" fill="url(#gg)"/><circle cx="500.3" cy="163.6" r="2.45" fill="url(#gg)"/><circle cx="505.7" cy="117.1" r="2.45" fill="url(#gg)"/><circle cx="496.9" cy="171.2" r="2.45" fill="url(#gg)"/><circle cx="497.5" cy="130.7" r="2.45" fill="url(#gg)"/><circle cx="448.2" cy="168.0" r="2.5" fill="url(#gb)"/><circle cx="489.9" cy="177.9" r="2.45" fill="url(#gg)"/><circle cx="406.1" cy="144.4" r="2.45" fill="url(#gg)"/><circle cx="457.6" cy="200.6" r="2.45" fill="url(#gg)"/><circle cx="503.4" cy="147.4" r="2.45" fill="url(#gg)"/><circle cx="405.1" cy="140.4" r="2.45" fill="url(#gg)"/><circle cx="503.6" cy="93.3" r="2.45" fill="url(#gg)"/><circle cx="534.5" cy="121.7" r="2.45" fill="url(#gg)"/><circle cx="489.3" cy="77.4" r="2.5" fill="url(#gb)"/><circle cx="491.6" cy="151.2" r="2.5" fill="url(#gb)"/><circle cx="532.5" cy="125.3" r="2.45" fill="url(#gg)"/><circle cx="528.2" cy="114.8" r="2.45" fill="url(#gg)"/><circle cx="474.9" cy="174.6" r="2.5" fill="url(#gb)"/><circle cx="461.3" cy="176.5" r="2.5" fill="url(#gb)"/><circle cx="473.4" cy="86.4" r="2.5" fill="url(#gb)"/><circle cx="461.2" cy="181.4" r="2.45" fill="url(#gg)"/><circle cx="496.5" cy="189.9" r="2.45" fill="url(#gg)"/><circle cx="442.8" cy="162.1" r="2.5" fill="url(#gb)"/><circle cx="454.1" cy="181.4" r="2.45" fill="url(#gg)"/><circle cx="468.0" cy="200.7" r="2.45" fill="url(#gg)"/><circle cx="450.0" cy="216.0" r="2.45" fill="url(#gg)"/><circle cx="420.0" cy="143.8" r="2.45" fill="url(#gg)"/><circle cx="511.6" cy="84.0" r="2.45" fill="url(#gg)"/><circle cx="510.2" cy="181.0" r="2.45" fill="url(#gg)"/><circle cx="464.6" cy="190.9" r="2.45" fill="url(#gg)"/><circle cx="476.2" cy="202.0" r="2.45" fill="url(#gg)"/><circle cx="412.5" cy="189.1" r="2.45" fill="url(#gg)"/><circle cx="454.2" cy="87.7" r="2.45" fill="url(#gg)"/><circle cx="457.5" cy="175.9" r="2.45" fill="url(#gg)"/><circle cx="416.0" cy="181.1" r="2.45" fill="url(#gg)"/><circle cx="421.4" cy="84.2" r="2.45" fill="url(#gg)"/><circle cx="494.5" cy="178.7" r="2.45" fill="url(#gg)"/><circle cx="424.2" cy="194.0" r="2.45" fill="url(#gg)"/><circle cx="496.3" cy="102.4" r="2.45" fill="url(#gg)"/><circle cx="449.9" cy="192.5" r="2.45" fill="url(#gg)"/><circle cx="521.6" cy="97.2" r="2.45" fill="url(#gg)"/><circle cx="479.5" cy="109.7" r="2.5" fill="url(#gb)"/><circle cx="424.8" cy="145.9" r="2.5" fill="url(#gb)"/><circle cx="444.3" cy="203.4" r="2.45" fill="url(#gg)"/><circle cx="403.4" cy="157.5" r="2.5" fill="url(#gb)"/><circle cx="400.5" cy="157.2" r="2.5" fill="url(#gb)"/><circle cx="508.6" cy="89.9" r="2.45" fill="url(#gg)"/><circle cx="418.7" cy="113.8" r="2.45" fill="url(#gg)"/><circle cx="498.5" cy="94.4" r="2.45" fill="url(#gg)"/><circle cx="412.0" cy="119.2" r="2.45" fill="url(#gg)"/><circle cx="502.2" cy="105.1" r="2.45" fill="url(#gg)"/><circle cx="427.2" cy="154.0" r="2.5" fill="url(#gb)"/><circle cx="522.6" cy="139.1" r="2.45" fill="url(#gg)"/><circle cx="500.0" cy="73.5" r="2.5" fill="url(#gb)"/><circle cx="418.8" cy="180.9" r="2.45" fill="url(#gg)"/><circle cx="401.6" cy="143.2" r="2.45" fill="url(#gg)"/><circle cx="515.0" cy="108.7" r="2.5" fill="url(#gb)"/><circle cx="474.3" cy="69.2" r="2.45" fill="url(#gg)"/><circle cx="519.8" cy="186.0" r="2.45" fill="url(#gg)"/><circle cx="416.0" cy="170.3" r="2.5" fill="url(#gb)"/><circle cx="442.4" cy="88.4" r="2.45" fill="url(#gg)"/><circle cx="415.9" cy="148.0" r="2.5" fill="url(#gb)"/><circle cx="425.1" cy="182.5" r="2.5" fill="url(#gb)"/><circle cx="485.3" cy="197.7" r="2.45" fill="url(#gg)"/><circle cx="446.6" cy="169.8" r="2.5" fill="url(#gb)"/><circle cx="466.4" cy="68.7" r="2.45" fill="url(#gg)"/><circle cx="423.4" cy="185.5" r="2.5" fill="url(#gb)"/><circle cx="444.3" cy="95.3" r="2.45" fill="url(#gg)"/><circle cx="476.5" cy="194.9" r="2.45" fill="url(#gg)"/><circle cx="424.0" cy="131.7" r="2.45" fill="url(#gg)"/><circle cx="485.3" cy="167.5" r="2.45" fill="url(#gg)"/><circle cx="482.1" cy="110.8" r="2.5" fill="url(#gb)"/><circle cx="481.2" cy="119.2" r="2.5" fill="url(#gb)"/><circle cx="483.0" cy="65.0" r="2.45" fill="url(#gg)"/><circle cx="472.1" cy="178.5" r="2.5" fill="url(#gb)"/><circle cx="422.8" cy="179.4" r="2.45" fill="url(#gg)"/><circle cx="520.7" cy="92.0" r="2.45" fill="url(#gg)"/><circle cx="418.9" cy="185.1" r="2.45" fill="url(#gg)"/><circle cx="402.0" cy="194.7" r="2.45" fill="url(#gg)"/><circle cx="441.3" cy="83.2" r="2.45" fill="url(#gg)"/><circle cx="501.8" cy="144.8" r="2.45" fill="url(#gg)"/><circle cx="420.8" cy="127.7" r="2.45" fill="url(#gg)"/><circle cx="508.9" cy="173.9" r="2.45" fill="url(#gg)"/><circle cx="420.9" cy="117.9" r="2.45" fill="url(#gg)"/><circle cx="445.1" cy="174.1" r="2.45" fill="url(#gg)"/><circle cx="451.2" cy="162.4" r="2.5" fill="url(#gb)"/><circle cx="451.6" cy="159.7" r="2.5" fill="url(#gb)"/><circle cx="508.2" cy="135.1" r="2.5" fill="url(#gb)"/><circle cx="488.8" cy="114.4" r="2.5" fill="url(#gb)"/><circle cx="412.6" cy="145.7" r="2.5" fill="url(#gb)"/><circle cx="512.0" cy="119.1" r="2.45" fill="url(#gg)"/><circle cx="508.7" cy="123.0" r="2.45" fill="url(#gg)"/><circle cx="492.7" cy="70.4" r="2.45" fill="url(#gg)"/><circle cx="403.5" cy="172.9" r="2.45" fill="url(#gg)"/><circle cx="409.3" cy="121.1" r="2.45" fill="url(#gg)"/><circle cx="500.5" cy="184.8" r="2.45" fill="url(#gg)"/><circle cx="441.7" cy="166.5" r="2.45" fill="url(#gg)"/><circle cx="499.4" cy="147.1" r="2.45" fill="url(#gg)"/><circle cx="439.5" cy="186.8" r="2.45" fill="url(#gg)"/><circle cx="492.0" cy="160.9" r="2.5" fill="url(#gb)"/><circle cx="428.4" cy="200.1" r="2.45" fill="url(#gg)"/><circle cx="529.4" cy="122.0" r="2.45" fill="url(#gg)"/><circle cx="435.1" cy="165.1" r="2.5" fill="url(#gb)"/><circle cx="509.0" cy="144.0" r="2.45" fill="url(#gg)"/><circle cx="511.3" cy="89.0" r="2.45" fill="url(#gg)"/><circle cx="404.6" cy="169.6" r="2.5" fill="url(#gb)"/><circle cx="429.7" cy="196.8" r="2.45" fill="url(#gg)"/><circle cx="381.0" cy="136.0" r="2.45" fill="url(#gg)"/><circle cx="496.2" cy="148.1" r="2.45" fill="url(#gg)"/><circle cx="412.0" cy="127.9" r="2.45" fill="url(#gg)"/><circle cx="480.5" cy="170.3" r="2.45" fill="url(#gg)"/><circle cx="470.2" cy="94.3" r="2.5" fill="url(#gb)"/><circle cx="429.0" cy="91.8" r="2.45" fill="url(#gg)"/><circle cx="426.9" cy="121.3" r="2.45" fill="url(#gg)"/><circle cx="474.5" cy="86.2" r="2.45" fill="url(#gg)"/><circle cx="525.7" cy="143.3" r="2.45" fill="url(#gg)"/><circle cx="486.9" cy="163.7" r="2.5" fill="url(#gb)"/><circle cx="398.6" cy="210.8" r="2.45" fill="url(#gg)"/><circle cx="420.6" cy="192.6" r="2.45" fill="url(#gg)"/><circle cx="500.9" cy="92.3" r="2.45" fill="url(#gg)"/><circle cx="410.0" cy="167.4" r="2.5" fill="url(#gb)"/><circle cx="491.7" cy="164.5" r="2.45" fill="url(#gg)"/><circle cx="510.9" cy="132.2" r="2.45" fill="url(#gg)"/><circle cx="502.9" cy="85.6" r="2.45" fill="url(#gg)"/><circle cx="469.6" cy="176.6" r="2.5" fill="url(#gb)"/><circle cx="500.3" cy="123.9" r="2.45" fill="url(#gg)"/><circle cx="427.2" cy="127.9" r="2.5" fill="url(#gb)"/><circle cx="428.9" cy="110.3" r="2.45" fill="url(#gg)"/><circle cx="450.4" cy="96.2" r="2.5" fill="url(#gb)"/><circle cx="509.1" cy="103.5" r="2.45" fill="url(#gg)"/><circle cx="459.9" cy="194.6" r="2.45" fill="url(#gg)"/><circle cx="409.4" cy="146.9" r="2.5" fill="url(#gb)"/><circle cx="425.9" cy="141.9" r="2.5" fill="url(#gb)"/><circle cx="464.4" cy="75.6" r="2.45" fill="url(#gg)"/><circle cx="406.8" cy="108.9" r="2.45" fill="url(#gg)"/><circle cx="462.7" cy="100.2" r="2.5" fill="url(#gb)"/><circle cx="411.6" cy="177.7" r="2.45" fill="url(#gg)"/><circle cx="513.2" cy="134.7" r="2.45" fill="url(#gg)"/><circle cx="430.6" cy="193.4" r="2.45" fill="url(#gg)"/><circle cx="491.7" cy="181.6" r="2.5" fill="url(#gb)"/><circle cx="492.1" cy="78.2" r="2.45" fill="url(#gg)"/><circle cx="497.2" cy="126.4" r="2.5" fill="url(#gb)"/><circle cx="400.2" cy="172.4" r="2.5" fill="url(#gb)"/><circle cx="480.3" cy="60.9" r="2.45" fill="url(#gg)"/><circle cx="501.5" cy="76.8" r="2.45" fill="url(#gg)"/><circle cx="434.9" cy="175.4" r="2.5" fill="url(#gb)"/><circle cx="427.6" cy="176.3" r="2.45" fill="url(#gg)"/><circle cx="436.2" cy="94.2" r="2.45" fill="url(#gg)"/><circle cx="455.2" cy="188.2" r="2.45" fill="url(#gg)"/><circle cx="471.4" cy="75.8" r="2.45" fill="url(#gg)"/><circle cx="471.6" cy="213.1" r="2.45" fill="url(#gg)"/><circle cx="452.1" cy="178.3" r="2.5" fill="url(#gb)"/><circle cx="462.5" cy="171.2" r="2.5" fill="url(#gb)"/><circle cx="444.0" cy="74.1" r="2.45" fill="url(#gg)"/><circle cx="481.0" cy="67.1" r="2.45" fill="url(#gg)"/><circle cx="437.2" cy="83.3" r="2.45" fill="url(#gg)"/><circle cx="450.0" cy="179.3" r="2.45" fill="url(#gg)"/><circle cx="470.6" cy="189.8" r="2.45" fill="url(#gg)"/><circle cx="404.9" cy="115.5" r="2.45" fill="url(#gg)"/><circle cx="467.5" cy="210.3" r="2.45" fill="url(#gg)"/><circle cx="470.3" cy="71.0" r="2.45" fill="url(#gg)"/><circle cx="438.3" cy="171.1" r="2.5" fill="url(#gb)"/><circle cx="512.4" cy="157.9" r="2.45" fill="url(#gg)"/><circle cx="400.8" cy="175.2" r="2.5" fill="url(#gb)"/><circle cx="504.9" cy="104.0" r="2.45" fill="url(#gg)"/><circle cx="424.0" cy="172.5" r="2.5" fill="url(#gb)"/><circle cx="514.7" cy="123.4" r="2.45" fill="url(#gg)"/><circle cx="430.5" cy="122.7" r="2.45" fill="url(#gg)"/><circle cx="517.5" cy="114.1" r="2.45" fill="url(#gg)"/><circle cx="507.7" cy="155.7" r="2.45" fill="url(#gg)"/><circle cx="505.7" cy="98.5" r="2.45" fill="url(#gg)"/><circle cx="455.1" cy="90.3" r="2.45" fill="url(#gg)"/><circle cx="452.8" cy="194.0" r="2.45" fill="url(#gg)"/><circle cx="488.7" cy="84.1" r="2.5" fill="url(#gb)"/><circle cx="507.3" cy="126.5" r="2.5" fill="url(#gb)"/><circle cx="415.6" cy="191.8" r="2.45" fill="url(#gg)"/><circle cx="455.0" cy="188.5" r="2.5" fill="url(#gb)"/><circle cx="439.8" cy="94.8" r="2.45" fill="url(#gg)"/><circle cx="521.7" cy="108.2" r="2.45" fill="url(#gg)"/><circle cx="491.9" cy="195.2" r="2.45" fill="url(#gg)"/><circle cx="497.9" cy="193.2" r="2.45" fill="url(#gg)"/><circle cx="415.3" cy="187.4" r="2.45" fill="url(#gg)"/><circle cx="412.9" cy="177.0" r="2.5" fill="url(#gb)"/><circle cx="457.5" cy="66.7" r="2.45" fill="url(#gg)"/><circle cx="490.9" cy="157.6" r="2.5" fill="url(#gb)"/><circle cx="435.2" cy="112.5" r="2.45" fill="url(#gg)"/><circle cx="498.5" cy="131.5" r="2.5" fill="url(#gb)"/><circle cx="518.1" cy="98.5" r="2.45" fill="url(#gg)"/><circle cx="494.3" cy="168.0" r="2.45" fill="url(#gg)"/><circle cx="407.3" cy="129.9" r="2.45" fill="url(#gg)"/><circle cx="458.6" cy="188.8" r="2.45" fill="url(#gg)"/><circle cx="441.4" cy="188.8" r="2.45" fill="url(#gg)"/><circle cx="495.5" cy="85.1" r="2.45" fill="url(#gg)"/><circle cx="420.9" cy="96.3" r="2.45" fill="url(#gg)"/><circle cx="405.5" cy="150.8" r="2.45" fill="url(#gg)"/><circle cx="528.6" cy="172.0" r="2.45" fill="url(#gg)"/><circle cx="490.5" cy="68.4" r="2.45" fill="url(#gg)"/><circle cx="500.8" cy="174.5" r="2.45" fill="url(#gg)"/><circle cx="411.8" cy="205.5" r="2.45" fill="url(#gg)"/><circle cx="473.8" cy="96.9" r="2.5" fill="url(#gb)"/><circle cx="448.7" cy="186.4" r="2.45" fill="url(#gg)"/><circle cx="434.5" cy="102.2" r="2.45" fill="url(#gg)"/><circle cx="398.4" cy="150.6" r="2.45" fill="url(#gg)"/><circle cx="449.7" cy="111.2" r="2.5" fill="url(#gb)"/><circle cx="469.0" cy="63.2" r="2.45" fill="url(#gg)"/><circle cx="451.6" cy="199.8" r="2.45" fill="url(#gg)"/><circle cx="472.9" cy="199.3" r="2.45" fill="url(#gg)"/><circle cx="409.3" cy="138.8" r="2.45" fill="url(#gg)"/><circle cx="455.3" cy="79.9" r="2.45" fill="url(#gg)"/><circle cx="473.0" cy="73.5" r="2.5" fill="url(#gb)"/><circle cx="490.4" cy="88.0" r="2.45" fill="url(#gg)"/><circle cx="397.5" cy="155.6" r="2.5" fill="url(#gb)"/><circle cx="435.4" cy="179.2" r="2.45" fill="url(#gg)"/><circle cx="439.4" cy="163.3" r="2.5" fill="url(#gb)"/><circle cx="437.8" cy="213.6" r="2.45" fill="url(#gg)"/><circle cx="417.3" cy="125.4" r="2.45" fill="url(#gg)"/><circle cx="475.3" cy="83.6" r="2.45" fill="url(#gg)"/><circle cx="506.4" cy="133.3" r="2.45" fill="url(#gg)"/><circle cx="456.6" cy="120.2" r="2.5" fill="url(#gb)"/><circle cx="531.7" cy="128.5" r="2.45" fill="url(#gg)"/><circle cx="464.7" cy="80.1" r="2.45" fill="url(#gg)"/><circle cx="442.1" cy="168.0" r="2.5" fill="url(#gb)"/><circle cx="439.0" cy="177.9" r="2.45" fill="url(#gg)"/><circle cx="411.7" cy="171.2" r="2.5" fill="url(#gb)"/><circle cx="498.2" cy="89.4" r="2.45" fill="url(#gg)"/><circle cx="471.8" cy="193.8" r="2.45" fill="url(#gg)"/><circle cx="506.4" cy="108.0" r="2.5" fill="url(#gb)"/><circle cx="486.7" cy="160.2" r="2.45" fill="url(#gg)"/><circle cx="395.0" cy="162.3" r="2.45" fill="url(#gg)"/><circle cx="436.1" cy="104.0" r="2.5" fill="url(#gb)"/><circle cx="404.5" cy="179.5" r="2.45" fill="url(#gg)"/><circle cx="419.2" cy="181.8" r="2.5" fill="url(#gb)"/><circle cx="382.8" cy="130.7" r="2.45" fill="url(#gg)"/><circle cx="481.8" cy="172.5" r="2.5" fill="url(#gb)"/><circle cx="516.8" cy="103.1" r="2.45" fill="url(#gg)"/><circle cx="493.1" cy="139.3" r="2.5" fill="url(#gb)"/><circle cx="485.2" cy="170.5" r="2.5" fill="url(#gb)"/><circle cx="479.7" cy="122.0" r="2.45" fill="url(#gg)"/><circle cx="503.1" cy="124.0" r="2.5" fill="url(#gb)"/><circle cx="394.8" cy="130.5" r="2.45" fill="url(#gg)"/><circle cx="498.7" cy="161.2" r="2.45" fill="url(#gg)"/><circle cx="377.5" cy="118.4" r="2.45" fill="url(#gg)"/><circle cx="415.8" cy="154.9" r="2.5" fill="url(#gb)"/><circle cx="468.0" cy="191.1" r="2.45" fill="url(#gg)"/><circle cx="468.2" cy="78.3" r="2.45" fill="url(#gg)"/><circle cx="501.8" cy="74.0" r="2.45" fill="url(#gg)"/><circle cx="460.9" cy="90.7" r="2.45" fill="url(#gg)"/><circle cx="444.4" cy="171.2" r="2.5" fill="url(#gb)"/><circle cx="428.5" cy="146.0" r="2.5" fill="url(#gb)"/><circle cx="414.6" cy="101.4" r="2.45" fill="url(#gg)"/><circle cx="431.7" cy="168.5" r="2.5" fill="url(#gb)"/><circle cx="466.3" cy="218.7" r="2.45" fill="url(#gg)"/><circle cx="453.8" cy="73.4" r="2.45" fill="url(#gg)"/><circle cx="396.4" cy="178.6" r="2.45" fill="url(#gg)"/></g>
<g stroke="#000" stroke-width="1.1" fill="none">
<rect x="45.55" y="12.5" width="311.95" height="240.4"/>
<path d="M45.55 252.9v-4.2M45.55 12.5v4.2M69.55 252.9v-2.6M69.55 12.5v2.6M93.54 252.9v-4.2M93.54 12.5v4.2M117.53 252.9v-2.6M117.53 12.5v2.6M141.53 252.9v-4.2M141.53 12.5v4.2M165.53 252.9v-2.6M165.53 12.5v2.6M189.52 252.9v-4.2M189.52 12.5v4.2M213.51 252.9v-2.6M213.51 12.5v2.6M237.51 252.9v-4.2M237.51 12.5v4.2M261.50 252.9v-2.6M261.50 12.5v2.6M285.50 252.9v-4.2M285.50 12.5v4.2M309.50 252.9v-2.6M309.50 12.5v2.6M333.49 252.9v-4.2M333.49 12.5v4.2M357.49 252.9v-2.6M357.49 12.5v2.6M45.55 246.85h2.6M357.5 246.85h-2.6M45.55 236.66h4.2M357.5 236.66h-4.2M45.55 226.47h2.6M357.5 226.47h-2.6M45.55 216.28h4.2M357.5 216.28h-4.2M45.55 206.09h2.6M357.5 206.09h-2.6M45.55 195.90h4.2M357.5 195.90h-4.2M45.55 185.72h2.6M357.5 185.72h-2.6M45.55 175.53h4.2M357.5 175.53h-4.2M45.55 165.34h2.6M357.5 165.34h-2.6M45.55 155.15h4.2M357.5 155.15h-4.2M45.55 144.96h2.6M357.5 144.96h-2.6M45.55 134.77h4.2M357.5 134.77h-4.2M45.55 124.58h2.6M357.5 124.58h-2.6M45.55 114.39h4.2M357.5 114.39h-4.2M45.55 104.20h2.6M357.5 104.20h-2.6M45.55 94.01h4.2M357.5 94.01h-4.2M45.55 83.83h2.6M357.5 83.83h-2.6M45.55 73.64h4.2M357.5 73.64h-4.2M45.55 63.45h2.6M357.5 63.45h-2.6M45.55 53.26h4.2M357.5 53.26h-4.2M45.55 43.07h2.6M357.5 43.07h-2.6M45.55 32.88h4.2M357.5 32.88h-4.2M45.55 22.69h2.6M357.5 22.69h-2.6M45.55 12.50h4.2M357.5 12.50h-4.2"/>
</g>
<g font-family="'Liberation Serif', serif" font-size="13.3" fill="#000">
<text x="45.5" y="264.2" text-anchor="middle">0</text>
<text x="93.5" y="264.2" text-anchor="middle">10</text>
<text x="141.5" y="264.2" text-anchor="middle">20</text>
<text x="189.5" y="264.2" text-anchor="middle">30</text>
<text x="237.5" y="264.2" text-anchor="middle">40</text>
<text x="285.5" y="264.2" text-anchor="middle">50</text>
<text x="333.5" y="264.2" text-anchor="middle">60</text>
<text x="44.3" y="240.4" text-anchor="end">0</text>
<text x="44.3" y="220.0" text-anchor="end">50</text>
<text x="44.3" y="199.6" text-anchor="end">100</text>
<text x="44.3" y="179.2" text-anchor="end">150</text>
<text x="44.3" y="158.8" text-anchor="end">200</text>
<text x="44.3" y="138.5" text-anchor="end">250</text>
<text x="44.3" y="118.1" text-anchor="end">300</text>
<text x="44.3" y="97.7" text-anchor="end">350</text>
<text x="44.3" y="77.3" text-anchor="end">400</text>
<text x="44.3" y="57.0" text-anchor="end">450</text>
<text x="44.3" y="36.6" text-anchor="end">500</text>
<text x="44.3" y="16.2" text-anchor="end">550</text>
</g>
<g font-family="'Liberation Serif', serif" font-weight="bold" font-size="15.8" fill="#000">
<text x="201.5" y="276.8" text-anchor="middle">B-block length</text>
<text transform="translate(17.6 133.1) rotate(-90)" text-anchor="middle" font-size="15.93">Number of B-blocks in the system</text>
</g>
<polyline points="98.3,236.5 99.5,236.5 100.7,236.5 101.9,236.5 103.1,236.5 104.3,236.4 105.5,236.4 106.7,236.4 107.9,236.3 109.1,236.3 110.3,236.3 111.5,236.2 112.7,236.1 113.9,236.1 115.1,236.0 116.3,235.9 117.5,235.8 118.7,235.8 119.9,235.6 121.1,235.5 122.3,235.4 123.5,235.3 124.7,235.1 125.9,234.9 127.1,234.8 128.3,234.5 129.5,234.3 130.7,234.1 131.9,233.8 133.1,233.5 134.3,233.2 135.5,232.9 136.7,232.5 137.9,232.1 139.1,231.7 140.3,231.3 141.5,230.8 142.7,230.3 143.9,229.7 145.1,229.1 146.3,228.5 147.5,227.8 148.7,227.1 149.9,226.3 151.1,225.5 152.3,224.7 153.5,223.8 154.7,222.8 155.9,221.8 157.1,220.8 158.3,219.7 159.5,218.5 160.7,217.3 161.9,216.0 163.1,214.7 164.3,213.4 165.5,212.0 166.7,210.5 167.9,209.0 169.1,207.4 170.3,205.8 171.5,204.1 172.7,202.4 173.9,200.7 175.1,198.9 176.3,197.1 177.5,195.3 178.7,193.4 179.9,191.5 181.1,189.6 182.3,187.6 183.5,185.7 184.7,183.8 185.9,181.8 187.1,179.9 188.3,177.9 189.5,176.0 190.7,174.1 191.9,172.3 193.1,170.5 194.3,168.7 195.5,166.9 196.7,165.2 197.9,163.6 199.1,162.1 200.3,160.6 201.5,159.1 202.7,157.8 203.9,156.5 205.1,155.4 206.3,154.3 207.5,153.3 208.7,152.4 209.9,151.7 211.1,151.0 212.3,150.5 213.5,150.0 214.7,149.7 215.9,149.5 217.1,149.4 218.3,149.5 219.5,149.6 220.7,149.9 221.9,150.3 223.1,150.8 224.3,151.4 225.5,152.1 226.7,153.0 227.9,153.9 229.1,154.9 230.3,156.1 231.5,157.3 232.7,158.6 233.9,160.0 235.1,161.4 236.3,163.0 237.5,164.6 238.7,166.3 239.9,168.0 241.1,169.7 242.3,171.6 243.5,173.4 244.7,175.3 245.9,177.2 247.1,179.1 248.3,181.0 249.5,183.0 250.7,184.9 251.9,186.9 253.1,188.8 254.3,190.7 255.5,192.6 256.7,194.5 257.9,196.4 259.1,198.2 260.3,200.0 261.5,201.7 262.7,203.5 263.9,205.1 265.1,206.8 266.3,208.3 267.5,209.9 268.7,211.4 269.9,212.8 271.1,214.2 272.3,215.5 273.5,216.8 274.7,218.0 275.9,219.2 277.1,220.3 278.3,221.4 279.5,222.4 280.7,223.4 281.9,224.3 283.1,225.2 284.3,226.0 285.5,226.8 286.7,227.5 287.9,228.2 289.1,228.9 290.3,229.5 291.5,230.1 292.7,230.6 293.9,231.1 295.1,231.6 296.3,232.0 297.5,232.4 298.7,232.8 299.9,233.1 301.1,233.4 302.3,233.7 303.5,234.0 304.7,234.2 305.9,234.5 307.1,234.7 308.3,234.9 309.5,235.0 310.7,235.2 311.9,235.3 313.1,235.5 314.3,235.6 315.5,235.7 316.7,235.8 317.9,235.9 319.1,236.0 320.3,236.1 321.5,236.1 322.7,236.2 323.9,236.2 325.1,236.3 326.3,236.3 327.5,236.4 328.7,236.4 329.9,236.4 331.1,236.5 332.3,236.5 333.5,236.5 334.7,236.5 335.9,236.5 337.1,236.6 338.3,236.6" fill="none" stroke="#ff0000" stroke-width="1.85" stroke-linejoin="round"/>
<g fill="#ff0000"><circle cx="98.3" cy="236.7" r="1.6"/><circle cx="103.1" cy="236.7" r="1.6"/><circle cx="107.9" cy="236.7" r="1.6"/><circle cx="112.7" cy="235.4" r="1.6"/><circle cx="117.5" cy="236.3" r="1.6"/><circle cx="122.3" cy="236.3" r="1.6"/><circle cx="127.1" cy="235.0" r="1.6"/><circle cx="131.9" cy="235.0" r="1.6"/><circle cx="136.7" cy="232.2" r="1.6"/><circle cx="141.5" cy="231.4" r="1.6"/><circle cx="146.3" cy="228.5" r="1.6"/><circle cx="151.1" cy="224.0" r="1.6"/><circle cx="155.9" cy="225.8" r="1.6"/><circle cx="160.7" cy="217.2" r="1.6"/><circle cx="165.5" cy="215.7" r="1.6"/><circle cx="170.3" cy="204.5" r="1.6"/><circle cx="175.1" cy="198.3" r="1.6"/><circle cx="179.9" cy="193.9" r="1.6"/><circle cx="184.7" cy="190.8" r="1.6"/><circle cx="189.5" cy="184.1" r="1.6"/><circle cx="194.3" cy="164.3" r="1.6"/><circle cx="199.1" cy="163.9" r="1.6"/><circle cx="203.9" cy="167.2" r="1.6"/><circle cx="208.7" cy="149.0" r="1.6"/><circle cx="213.5" cy="145.4" r="1.6"/><circle cx="218.3" cy="145.2" r="1.6"/><circle cx="223.1" cy="149.4" r="1.6"/><circle cx="227.9" cy="158.0" r="1.6"/><circle cx="232.7" cy="160.7" r="1.6"/><circle cx="237.5" cy="167.2" r="1.6"/><circle cx="242.3" cy="167.2" r="1.6"/><circle cx="247.1" cy="173.1" r="1.6"/><circle cx="251.9" cy="182.3" r="1.6"/><circle cx="256.7" cy="188.8" r="1.6"/><circle cx="261.5" cy="200.8" r="1.6"/><circle cx="266.3" cy="200.8" r="1.6"/><circle cx="271.1" cy="213.8" r="1.6"/><circle cx="275.9" cy="220.4" r="1.6"/><circle cx="280.7" cy="226.9" r="1.6"/><circle cx="285.5" cy="225.8" r="1.6"/><circle cx="290.3" cy="229.7" r="1.6"/><circle cx="295.1" cy="232.3" r="1.6"/><circle cx="299.9" cy="231.4" r="1.6"/><circle cx="304.7" cy="234.2" r="1.6"/><circle cx="309.5" cy="235.0" r="1.6"/><circle cx="314.3" cy="235.8" r="1.6"/><circle cx="319.1" cy="236.3" r="1.6"/><circle cx="323.9" cy="236.7" r="1.6"/><circle cx="328.7" cy="236.7" r="1.6"/><circle cx="333.5" cy="236.7" r="1.6"/><circle cx="338.3" cy="236.7" r="1.6"/></g>
<polyline points="64.7,236.3 65.8,236.3 66.9,236.2 68.0,236.1 69.1,236.1 70.1,236.0 71.2,235.9 72.3,235.8 73.4,235.7 74.5,235.6 75.5,235.5 76.6,235.3 77.7,235.2 78.8,235.0 79.9,234.8 80.9,234.6 82.0,234.4 83.1,234.1 84.2,233.8 85.3,233.5 86.3,233.2 87.4,232.8 88.5,232.4 89.6,232.0 90.7,231.5 91.7,231.0 92.8,230.4 93.9,229.9 95.0,229.2 96.1,228.5 97.1,227.8 98.2,227.0 99.3,226.1 100.4,225.2 101.5,224.2 102.5,223.2 103.6,222.1 104.7,220.9 105.8,219.6 106.9,218.3 107.9,216.9 109.0,215.4 110.1,213.9 111.2,212.2 112.3,210.5 113.3,208.7 114.4,206.8 115.5,204.9 116.6,202.8 117.7,200.7 118.7,198.5 119.8,196.2 120.9,193.8 122.0,191.3 123.1,188.8 124.1,186.2 125.2,183.5 126.3,180.8 127.4,178.0 128.5,175.2 129.5,172.3 130.6,169.3 131.7,166.3 132.8,163.3 133.9,160.3 134.9,157.3 136.0,154.2 137.1,151.2 138.2,148.1 139.3,145.1 140.3,142.1 141.4,139.1 142.5,136.2 143.6,133.3 144.6,130.5 145.7,127.8 146.8,125.2 147.9,122.6 149.0,120.2 150.0,117.8 151.1,115.6 152.2,113.5 153.3,111.6 154.4,109.8 155.4,108.1 156.5,106.6 157.6,105.3 158.7,104.1 159.8,103.2 160.8,102.3 161.9,101.7 163.0,101.3 164.1,101.0 165.2,100.9 166.2,101.1 167.3,101.4 168.4,101.8 169.5,102.5 170.6,103.4 171.6,104.4 172.7,105.6 173.8,107.0 174.9,108.5 176.0,110.2 177.0,112.0 178.1,114.0 179.2,116.1 180.3,118.3 181.4,120.7 182.4,123.2 183.5,125.7 184.6,128.4 185.7,131.1 186.8,134.0 187.8,136.8 188.9,139.8 190.0,142.7 191.1,145.7 192.2,148.8 193.2,151.8 194.3,154.9 195.4,157.9 196.5,161.0 197.6,164.0 198.6,167.0 199.7,170.0 200.8,172.9 201.9,175.8 203.0,178.6 204.0,181.4 205.1,184.1 206.2,186.8 207.3,189.4 208.4,191.9 209.4,194.3 210.5,196.7 211.6,199.0 212.7,201.2 213.8,203.3 214.8,205.3 215.9,207.3 217.0,209.1 218.1,210.9 219.2,212.6 220.2,214.2 221.3,215.8 222.4,217.2 223.5,218.6 224.6,219.9 225.6,221.2 226.7,222.3 227.8,223.4 228.9,224.5 230.0,225.4 231.0,226.3 232.1,227.2 233.2,227.9 234.3,228.7 235.4,229.4 236.4,230.0 237.5,230.6 238.6,231.1 239.7,231.6 240.7,232.1 241.8,232.5 242.9,232.9 244.0,233.3 245.1,233.6 246.1,233.9 247.2,234.2 248.3,234.4 249.4,234.6 250.5,234.8 251.5,235.0 252.6,235.2 253.7,235.4 254.8,235.5 255.9,235.6 256.9,235.7 258.0,235.8 259.1,235.9 260.2,236.0 261.3,236.1 262.3,236.2 263.4,236.2 264.5,236.3 265.6,236.3 266.7,236.4 267.7,236.4 268.8,236.4 269.9,236.5 271.0,236.5 272.1,236.5 273.1,236.5 274.2,236.5 275.3,236.6 276.4,236.6 277.5,236.6 278.5,236.6 279.6,236.6 280.7,236.6" fill="none" stroke="#000000" stroke-width="1.85" stroke-linejoin="round"/>
<g fill="#000000"><rect x="63.2" y="234.8" width="3" height="3"/><rect x="68.0" y="235.2" width="3" height="3"/><rect x="72.8" y="234.3" width="3" height="3"/><rect x="77.6" y="234.8" width="3" height="3"/><rect x="82.4" y="232.5" width="3" height="3"/><rect x="87.2" y="229.7" width="3" height="3"/><rect x="92.0" y="227.0" width="3" height="3"/><rect x="96.8" y="225.0" width="3" height="3"/><rect x="101.6" y="222.9" width="3" height="3"/><rect x="106.4" y="222.5" width="3" height="3"/><rect x="111.2" y="212.7" width="3" height="3"/><rect x="116.0" y="205.8" width="3" height="3"/><rect x="120.8" y="191.8" width="3" height="3"/><rect x="125.6" y="177.7" width="3" height="3"/><rect x="130.4" y="161.1" width="3" height="3"/><rect x="135.2" y="158.7" width="3" height="3"/><rect x="140.0" y="136.1" width="3" height="3"/><rect x="144.8" y="126.7" width="3" height="3"/><rect x="149.6" y="107.6" width="3" height="3"/><rect x="154.4" y="99.0" width="3" height="3"/><rect x="159.2" y="102.7" width="3" height="3"/><rect x="164.0" y="109.4" width="3" height="3"/><rect x="168.8" y="97.6" width="3" height="3"/><rect x="173.6" y="111.1" width="3" height="3"/><rect x="178.4" y="117.1" width="3" height="3"/><rect x="183.2" y="122.9" width="3" height="3"/><rect x="188.0" y="141.2" width="3" height="3"/><rect x="192.8" y="160.2" width="3" height="3"/><rect x="197.6" y="169.7" width="3" height="3"/><rect x="202.4" y="183.4" width="3" height="3"/><rect x="207.2" y="191.6" width="3" height="3"/><rect x="212.0" y="206.9" width="3" height="3"/><rect x="216.8" y="206.9" width="3" height="3"/><rect x="221.6" y="211.0" width="3" height="3"/><rect x="226.4" y="224.8" width="3" height="3"/><rect x="231.2" y="228.4" width="3" height="3"/><rect x="236.0" y="228.8" width="3" height="3"/><rect x="240.8" y="231.5" width="3" height="3"/><rect x="245.6" y="232.8" width="3" height="3"/><rect x="250.4" y="233.9" width="3" height="3"/><rect x="255.2" y="234.3" width="3" height="3"/><rect x="260.0" y="234.5" width="3" height="3"/><rect x="264.8" y="234.8" width="3" height="3"/><rect x="269.6" y="235.0" width="3" height="3"/><rect x="274.4" y="235.0" width="3" height="3"/><rect x="279.2" y="235.2" width="3" height="3"/></g>
<polyline points="50.3,235.2 51.3,235.0 52.3,234.8 53.2,234.6 54.2,234.4 55.1,234.1 56.1,233.8 57.1,233.5 58.0,233.1 59.0,232.7 59.9,232.3 60.9,231.8 61.9,231.3 62.8,230.8 63.8,230.2 64.7,229.5 65.7,228.8 66.7,228.1 67.6,227.2 68.6,226.3 69.5,225.4 70.5,224.3 71.5,223.2 72.4,222.0 73.4,220.8 74.3,219.4 75.3,218.0 76.3,216.4 77.2,214.8 78.2,213.0 79.1,211.2 80.1,209.2 81.1,207.1 82.0,204.9 83.0,202.6 83.9,200.2 84.9,197.7 85.9,195.0 86.8,192.3 87.8,189.4 88.7,186.4 89.7,183.2 90.7,180.0 91.6,176.6 92.6,173.1 93.5,169.6 94.5,165.9 95.5,162.1 96.4,158.2 97.4,154.2 98.3,150.2 99.3,146.1 100.3,141.9 101.2,137.6 102.2,133.3 103.1,129.0 104.1,124.6 105.1,120.2 106.0,115.8 107.0,111.4 107.9,107.1 108.9,102.7 109.9,98.4 110.8,94.2 111.8,90.0 112.7,85.9 113.7,82.0 114.7,78.1 115.6,74.4 116.6,70.8 117.5,67.3 118.5,64.0 119.5,60.9 120.4,58.0 121.4,55.3 122.3,52.8 123.3,50.5 124.3,48.4 125.2,46.6 126.2,45.0 127.1,43.7 128.1,42.7 129.1,41.9 130.0,41.3 131.0,41.1 131.9,41.1 132.9,41.3 133.9,41.9 134.8,42.7 135.8,43.7 136.7,45.0 137.7,46.6 138.7,48.4 139.6,50.5 140.6,52.8 141.5,55.3 142.5,58.0 143.4,60.9 144.4,64.0 145.4,67.3 146.3,70.8 147.3,74.4 148.2,78.1 149.2,82.0 150.2,85.9 151.1,90.0 152.1,94.2 153.0,98.4 154.0,102.7 155.0,107.1 155.9,111.4 156.9,115.8 157.8,120.2 158.8,124.6 159.8,129.0 160.7,133.3 161.7,137.6 162.6,141.9 163.6,146.1 164.6,150.2 165.5,154.2 166.5,158.2 167.4,162.1 168.4,165.9 169.4,169.6 170.3,173.1 171.3,176.6 172.2,180.0 173.2,183.2 174.2,186.4 175.1,189.4 176.1,192.3 177.0,195.0 178.0,197.7 179.0,200.2 179.9,202.6 180.9,204.9 181.8,207.1 182.8,209.2 183.8,211.2 184.7,213.0 185.7,214.8 186.6,216.4 187.6,218.0 188.6,219.4 189.5,220.8 190.5,222.0 191.4,223.2 192.4,224.3 193.4,225.4 194.3,226.3 195.3,227.2 196.2,228.1 197.2,228.8 198.2,229.5 199.1,230.2 200.1,230.8 201.0,231.3 202.0,231.8 203.0,232.3 203.9,232.7 204.9,233.1 205.8,233.5 206.8,233.8 207.8,234.1 208.7,234.4 209.7,234.6 210.6,234.8 211.6,235.0 212.6,235.2 213.5,235.4 214.5,235.5 215.4,235.6 216.4,235.8 217.4,235.9 218.3,235.9 219.3,236.0 220.2,236.1 221.2,236.2 222.2,236.2 223.1,236.3 224.1,236.3 225.0,236.4 226.0,236.4 227.0,236.4 227.9,236.5 228.9,236.5 229.8,236.5 230.8,236.5 231.8,236.6 232.7,236.6 233.7,236.6 234.6,236.6 235.6,236.6 236.6,236.6 237.5,236.6 238.5,236.6 239.4,236.6 240.4,236.6 241.3,236.6 242.3,236.6" fill="none" stroke="#0000ff" stroke-width="1.85" stroke-linejoin="round"/>
<g fill="#0000ff"><path d="M50.3 233.8l1.9 3.4h-3.8z"/><path d="M55.1 232.9l1.9 3.4h-3.8z"/><path d="M59.9 230.6l1.9 3.4h-3.8z"/><path d="M64.7 227.3l1.9 3.4h-3.8z"/><path d="M69.5 223.4l1.9 3.4h-3.8z"/><path d="M74.3 221.0l1.9 3.4h-3.8z"/><path d="M79.1 209.7l1.9 3.4h-3.8z"/><path d="M83.9 204.2l1.9 3.4h-3.8z"/><path d="M88.7 187.4l1.9 3.4h-3.8z"/><path d="M93.5 161.5l1.9 3.4h-3.8z"/><path d="M98.3 148.3l1.9 3.4h-3.8z"/><path d="M103.1 141.4l1.9 3.4h-3.8z"/><path d="M107.9 119.7l1.9 3.4h-3.8z"/><path d="M112.7 72.2l1.9 3.4h-3.8z"/><path d="M117.5 67.2l1.9 3.4h-3.8z"/><path d="M122.3 50.4l1.9 3.4h-3.8z"/><path d="M127.1 36.6l1.9 3.4h-3.8z"/><path d="M131.9 40.7l1.9 3.4h-3.8z"/><path d="M136.7 47.2l1.9 3.4h-3.8z"/><path d="M141.5 55.7l1.9 3.4h-3.8z"/><path d="M146.3 72.5l1.9 3.4h-3.8z"/><path d="M151.1 90.0l1.9 3.4h-3.8z"/><path d="M155.9 109.5l1.9 3.4h-3.8z"/><path d="M160.7 127.9l1.9 3.4h-3.8z"/><path d="M165.5 161.3l1.9 3.4h-3.8z"/><path d="M170.3 169.2l1.9 3.4h-3.8z"/><path d="M175.1 195.5l1.9 3.4h-3.8z"/><path d="M179.9 201.2l1.9 3.4h-3.8z"/><path d="M184.7 215.2l1.9 3.4h-3.8z"/><path d="M189.5 216.5l1.9 3.4h-3.8z"/><path d="M194.3 221.0l1.9 3.4h-3.8z"/><path d="M199.1 230.2l1.9 3.4h-3.8z"/><path d="M203.9 227.9l1.9 3.4h-3.8z"/><path d="M208.7 232.6l1.9 3.4h-3.8z"/><path d="M213.5 233.0l1.9 3.4h-3.8z"/><path d="M218.3 233.4l1.9 3.4h-3.8z"/><path d="M223.1 233.8l1.9 3.4h-3.8z"/><path d="M227.9 234.3l1.9 3.4h-3.8z"/><path d="M232.7 234.3l1.9 3.4h-3.8z"/><path d="M237.5 234.7l1.9 3.4h-3.8z"/><path d="M242.3 234.7l1.9 3.4h-3.8z"/></g>
<path fill="#0000ff" d="M187.3 41.4l2 3.5h-4z"/>
<text x="202.8" y="46.9" font-family="'Liberation Serif', serif" font-size="11.3" fill="#000"><tspan font-style="italic">n</tspan><tspan font-style="italic" font-size="7.2" dy="3.4">A</tspan><tspan dy="-3.4">/</tspan><tspan font-style="italic">n</tspan><tspan font-style="italic" font-size="7.2" dy="3.4">B</tspan><tspan dy="-3.4">=3, spheres, Đ=1.089</tspan></text>
<rect fill="#000000" x="185.70000000000002" y="58.8" width="3.2" height="3.2"/>
<text x="202.8" y="63.8" font-family="'Liberation Serif', serif" font-size="11.3" fill="#000"><tspan font-style="italic">n</tspan><tspan font-style="italic" font-size="7.2" dy="3.4">A</tspan><tspan dy="-3.4">/</tspan><tspan font-style="italic">n</tspan><tspan font-style="italic" font-size="7.2" dy="3.4">B</tspan><tspan dy="-3.4">=4.16, cylinders, Đ=1.057</tspan></text>
<circle fill="#ff0000" cx="187.3" cy="77.1" r="1.7"/>
<text x="202.8" y="80.5" font-family="'Liberation Serif', serif" font-size="11.3" fill="#000"><tspan font-style="italic">n</tspan><tspan font-style="italic" font-size="7.2" dy="3.4">A</tspan><tspan dy="-3.4">/</tspan><tspan font-style="italic">n</tspan><tspan font-style="italic" font-size="7.2" dy="3.4">B</tspan><tspan dy="-3.4">=6, vesicles, Đ=1.032</tspan></text>
<g font-family="'Liberation Sans', sans-serif" font-size="28.4" fill="#000">
<text x="314.8" y="223.7">(a)</text>
<text x="507.8" y="224.7">(b)</text>
</g>
</svg>
</body></html>
